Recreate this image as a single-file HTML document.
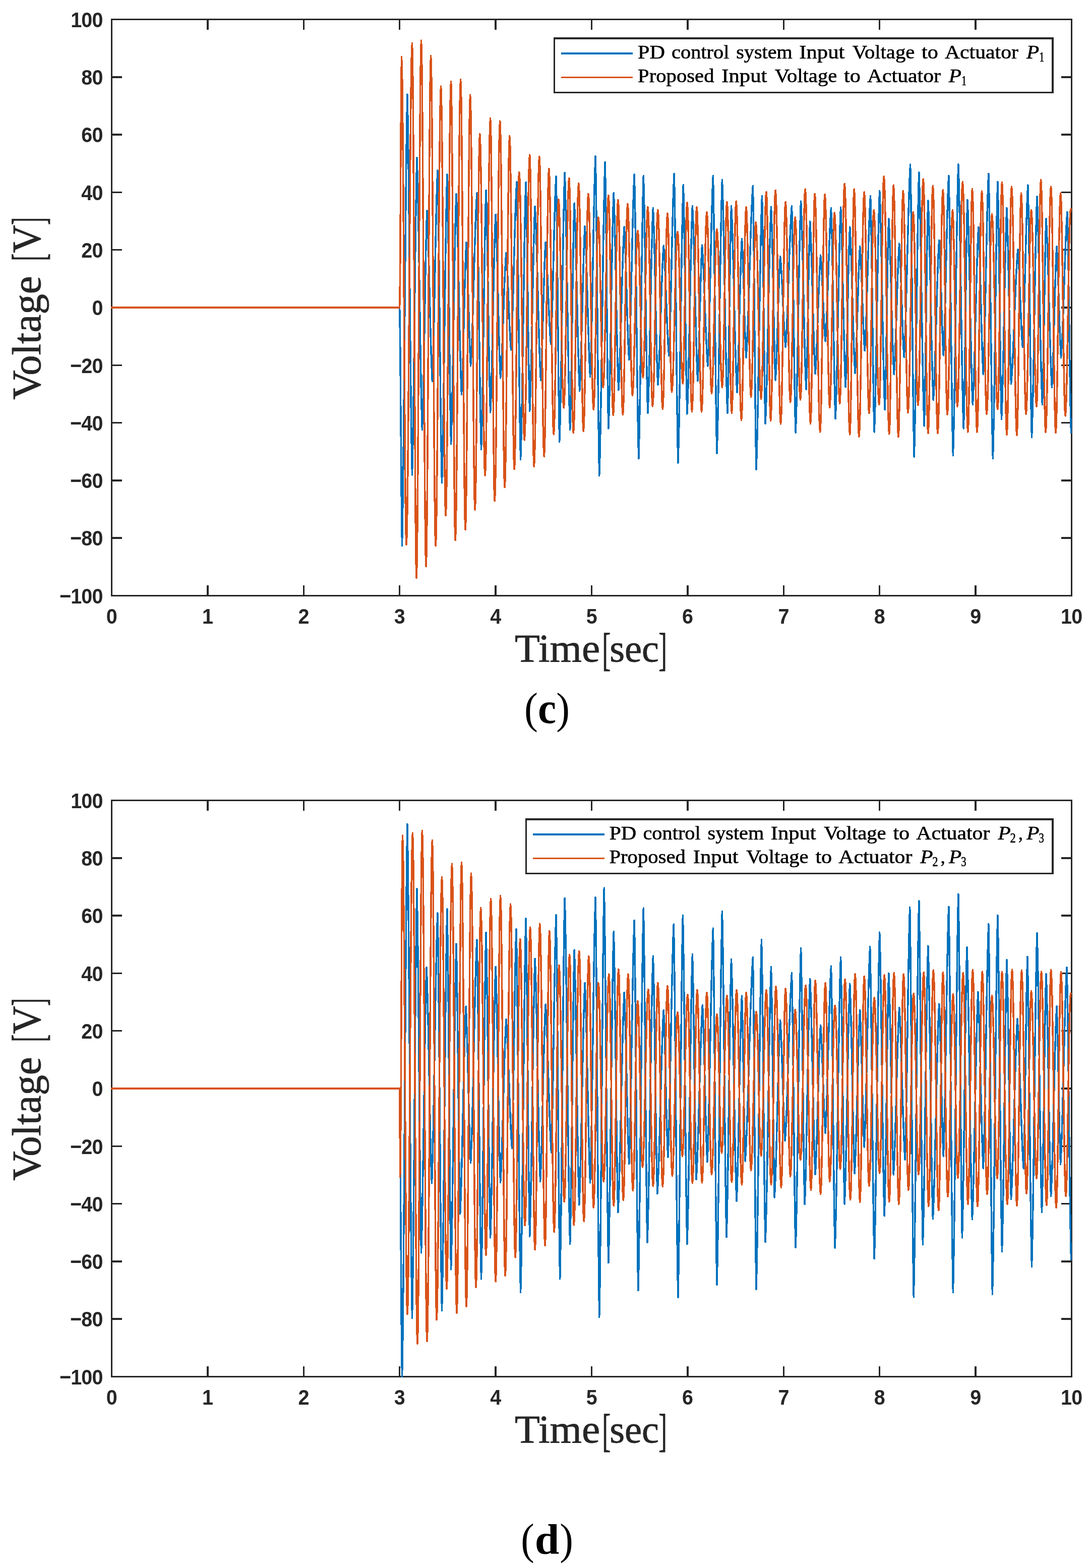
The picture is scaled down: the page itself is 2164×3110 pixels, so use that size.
<!DOCTYPE html>
<html lang="en"><head><meta charset="utf-8"><title>Figure</title>
<style>
html,body{margin:0;padding:0;background:#fff;}
body{width:2164px;height:3110px;}
svg{display:block;}
text{fill:#262626;white-space:pre;}
.tk text{font-family:"Liberation Sans",sans-serif;font-weight:bold;}
.cm{font-family:"Liberation Serif",serif;stroke:#262626;stroke-width:0.8;}
.cap{font-family:"Liberation Serif",serif;fill:#000;}
.lg text{fill:#000;stroke:#000;stroke-width:0.6;}
</style></head><body>
<svg width="2164" height="3110" viewBox="0 0 2164 3110">
<rect width="2164" height="3110" fill="#fff"/>
<g id="plot1">
<path d="M411.9 1181.5v-20.3M411.9 38.5v20.3M602.3 1181.5v-20.3M602.3 38.5v20.3M792.7 1181.5v-20.3M792.7 38.5v20.3M983.1 1181.5v-20.3M983.1 38.5v20.3M1173.5 1181.5v-20.3M1173.5 38.5v20.3M1363.9 1181.5v-20.3M1363.9 38.5v20.3M1554.3 1181.5v-20.3M1554.3 38.5v20.3M1744.7 1181.5v-20.3M1744.7 38.5v20.3M1935.1 1181.5v-20.3M1935.1 38.5v20.3M221.5 1067.2h20.3M2125.5 1067.2h-20.3M221.5 952.9h20.3M2125.5 952.9h-20.3M221.5 838.6h20.3M2125.5 838.6h-20.3M221.5 724.3h20.3M2125.5 724.3h-20.3M221.5 610.0h20.3M2125.5 610.0h-20.3M221.5 495.7h20.3M2125.5 495.7h-20.3M221.5 381.4h20.3M2125.5 381.4h-20.3M221.5 267.1h20.3M2125.5 267.1h-20.3M221.5 152.8h20.3M2125.5 152.8h-20.3" stroke="#262626" stroke-width="3.5" fill="none" shape-rendering="crispEdges"/>
<rect x="221.5" y="38.5" width="1904.0" height="1143.0" fill="none" stroke="#262626" stroke-width="3" shape-rendering="crispEdges"/>
<g class="tk" font-size="43.4" letter-spacing="-0.9"><text transform="translate(221.2 1236.6) scale(0.91 1)" text-anchor="middle">0</text>
<text transform="translate(411.6 1236.6) scale(0.91 1)" text-anchor="middle">1</text>
<text transform="translate(602.0 1236.6) scale(0.91 1)" text-anchor="middle">2</text>
<text transform="translate(792.4 1236.6) scale(0.91 1)" text-anchor="middle">3</text>
<text transform="translate(982.8 1236.6) scale(0.91 1)" text-anchor="middle">4</text>
<text transform="translate(1173.2 1236.6) scale(0.91 1)" text-anchor="middle">5</text>
<text transform="translate(1363.6 1236.6) scale(0.91 1)" text-anchor="middle">6</text>
<text transform="translate(1554.0 1236.6) scale(0.91 1)" text-anchor="middle">7</text>
<text transform="translate(1744.4 1236.6) scale(0.91 1)" text-anchor="middle">8</text>
<text transform="translate(1934.8 1236.6) scale(0.91 1)" text-anchor="middle">9</text>
<text transform="translate(2125.2 1236.6) scale(0.91 1)" text-anchor="middle">10</text>
<text transform="translate(203.6 1196.7) scale(0.91 1)" text-anchor="end">−100</text>
<text transform="translate(203.6 1082.4) scale(0.91 1)" text-anchor="end">−80</text>
<text transform="translate(203.6 968.1) scale(0.91 1)" text-anchor="end">−60</text>
<text transform="translate(203.6 853.8) scale(0.91 1)" text-anchor="end">−40</text>
<text transform="translate(203.6 739.5) scale(0.91 1)" text-anchor="end">−20</text>
<text transform="translate(203.6 625.2) scale(0.91 1)" text-anchor="end">0</text>
<text transform="translate(203.6 510.9) scale(0.91 1)" text-anchor="end">20</text>
<text transform="translate(203.6 396.6) scale(0.91 1)" text-anchor="end">40</text>
<text transform="translate(203.6 282.3) scale(0.91 1)" text-anchor="end">60</text>
<text transform="translate(203.6 168.0) scale(0.91 1)" text-anchor="end">80</text>
<text transform="translate(203.6 53.7) scale(0.91 1)" text-anchor="end">100</text></g>
<g fill="none" stroke-width="3.5" stroke-linejoin="round" shape-rendering="crispEdges"><path stroke="#0072bd" d="M221.5 610.0L792.7 610.0L793.7 679.8L794.6 786.2L795.6 906.5L796.5 1012.8L797.5 1082.6L798.4 1032.9L799.4 965.7L800.3 883.2L801.3 788.9L802.2 687.1L803.2 582.6L804.1 480.8L805.1 386.5L806.0 304.0L807.0 236.9L807.9 187.1L808.9 234.1L809.8 298.6L810.8 378.1L811.7 468.5L812.7 564.6L813.6 660.6L814.6 751.0L815.5 830.5L816.5 895.1L817.5 942.0L818.4 902.9L819.4 849.1L820.3 782.8L821.3 707.5L822.2 627.4L823.2 547.4L824.1 472.0L825.1 405.8L826.0 352.0L827.0 312.8L827.9 342.8L828.9 383.3L829.8 432.9L830.8 489.8L831.7 551.1L832.7 614.0L833.6 675.4L834.6 732.2L835.5 781.9L836.5 822.3L837.4 852.3L838.4 825.2L839.3 788.1L840.3 742.3L841.3 690.2L842.2 634.9L843.2 579.5L844.1 527.5L845.1 481.7L846.0 444.5L847.0 417.4L847.9 436.2L848.9 461.7L849.8 492.9L850.8 528.6L851.7 567.1L852.7 606.6L853.6 645.2L854.6 680.8L855.5 712.0L856.5 737.5L857.4 756.3L858.4 733.1L859.3 701.7L860.3 663.2L861.2 619.1L862.2 571.5L863.1 522.7L864.1 475.2L865.1 431.1L866.0 392.6L867.0 361.2L867.9 338.0L868.9 381.7L869.8 443.0L870.8 518.7L871.7 603.6L872.7 691.8L873.6 776.8L874.6 852.4L875.5 913.7L876.5 957.5L877.4 923.5L878.4 877.6L879.3 821.3L880.3 756.9L881.2 687.4L882.2 616.1L883.1 546.5L884.1 482.1L885.0 425.8L886.0 380.0L886.9 346.0L887.9 389.6L888.9 452.0L889.8 528.8L890.8 613.4L891.7 698.0L892.7 774.9L893.6 837.3L894.6 880.9L895.5 853.3L896.5 816.0L897.4 770.3L898.4 718.0L899.3 661.5L900.3 603.6L901.2 547.1L902.2 494.8L903.1 449.1L904.1 411.9L905.0 384.3L906.0 406.4L906.9 436.3L907.9 472.9L908.8 514.9L909.8 560.2L910.7 606.7L911.7 652.0L912.7 693.9L913.6 730.6L914.6 760.5L915.5 782.6L916.5 763.8L917.4 737.9L918.4 706.1L919.3 669.9L920.3 631.4L921.2 593.0L922.2 556.8L923.1 524.9L924.1 499.1L925.0 480.3L926.0 497.6L926.9 521.9L927.9 551.9L928.8 585.6L929.8 620.6L930.7 654.3L931.7 684.3L932.6 708.7L933.6 726.0L934.5 710.3L935.5 689.8L936.5 664.9L937.4 636.2L938.4 604.7L939.3 571.5L940.3 537.6L941.2 504.4L942.2 472.9L943.1 444.2L944.1 419.3L945.0 398.8L946.0 383.1L946.9 419.0L947.9 469.3L948.8 531.3L949.8 601.0L950.7 673.3L951.7 743.0L952.6 805.0L953.6 855.3L954.5 891.2L955.5 859.2L956.4 815.3L957.4 761.2L958.3 699.7L959.3 634.3L960.3 568.9L961.2 507.4L962.2 453.3L963.1 409.4L964.1 377.4L965.0 408.5L966.0 452.1L966.9 505.9L967.9 566.3L968.8 629.1L969.8 689.5L970.7 743.3L971.7 786.9L972.6 818.0L973.6 796.2L974.5 766.8L975.5 730.6L976.4 689.3L977.4 644.6L978.3 598.8L979.3 554.2L980.2 512.8L981.2 476.7L982.1 447.2L983.1 425.4L984.1 445.6L985.0 473.4L986.0 507.5L986.9 546.4L987.9 587.7L988.8 629.0L989.8 667.9L990.7 702.1L991.7 729.8L992.6 750.0L993.6 737.5L994.5 721.0L995.5 700.7L996.4 677.5L997.4 652.2L998.3 625.7L999.3 599.3L1000.2 573.9L1001.2 550.7L1002.1 530.5L1003.1 513.9L1004.0 501.4L1005.0 513.4L1005.9 529.9L1006.9 550.2L1007.9 573.2L1008.8 597.7L1009.8 622.2L1010.7 645.3L1011.7 665.6L1012.6 682.0L1013.6 694.0L1014.5 677.3L1015.5 655.0L1016.4 627.9L1017.4 596.7L1018.3 562.6L1019.3 527.1L1020.2 491.6L1021.2 457.6L1022.1 426.4L1023.1 399.2L1024.0 377.0L1025.0 360.3L1025.9 405.2L1026.9 469.5L1027.8 548.6L1028.8 635.7L1029.7 722.9L1030.7 802.0L1031.7 866.3L1032.6 911.2L1033.6 880.6L1034.5 839.4L1035.5 788.8L1036.4 730.9L1037.4 668.3L1038.3 604.2L1039.3 541.7L1040.2 483.8L1041.2 433.2L1042.1 392.0L1043.1 361.4L1044.0 398.4L1045.0 451.5L1045.9 516.7L1046.9 588.6L1047.8 660.4L1048.8 725.7L1049.7 778.7L1050.7 815.7L1051.6 793.2L1052.6 762.7L1053.5 725.3L1054.5 682.5L1055.5 636.3L1056.4 588.9L1057.4 542.7L1058.3 499.9L1059.3 462.5L1060.2 432.0L1061.2 409.4L1062.1 426.7L1063.1 449.7L1064.0 477.8L1065.0 510.1L1065.9 545.3L1066.9 582.0L1067.8 618.7L1068.8 653.9L1069.7 686.2L1070.7 714.3L1071.6 737.3L1072.6 754.6L1073.5 737.5L1074.5 714.1L1075.4 685.2L1076.4 652.3L1077.3 617.4L1078.3 582.5L1079.3 549.7L1080.2 520.8L1081.2 497.3L1082.1 480.3L1083.1 491.5L1084.0 506.7L1085.0 525.3L1085.9 546.6L1086.9 569.6L1087.8 593.2L1088.8 616.2L1089.7 637.5L1090.7 656.2L1091.6 671.3L1092.6 682.6L1093.5 664.1L1094.5 639.1L1095.4 608.5L1096.4 573.5L1097.3 535.7L1098.3 496.9L1099.2 459.1L1100.2 424.0L1101.1 393.4L1102.1 368.5L1103.1 350.0L1104.0 400.6L1105.0 474.7L1105.9 565.1L1106.9 661.2L1107.8 751.6L1108.8 825.7L1109.7 876.3L1110.7 846.7L1111.6 806.6L1112.6 757.5L1113.5 701.3L1114.5 640.6L1115.4 578.3L1116.4 517.6L1117.3 461.4L1118.3 412.2L1119.2 372.2L1120.2 342.5L1121.1 370.9L1122.1 409.1L1123.0 456.0L1124.0 509.7L1124.9 567.7L1125.9 627.2L1126.9 685.1L1127.8 738.8L1128.8 785.7L1129.7 824.0L1130.7 852.3L1131.6 820.6L1132.6 776.1L1133.5 721.3L1134.5 659.7L1135.4 595.7L1136.4 534.1L1137.3 479.3L1138.3 434.8L1139.2 403.1L1140.2 423.8L1141.1 451.7L1142.1 486.0L1143.0 525.1L1144.0 567.4L1144.9 610.8L1145.9 653.1L1146.8 692.3L1147.8 726.6L1148.7 754.5L1149.7 775.2L1150.7 757.0L1151.6 732.5L1152.6 702.5L1153.5 668.1L1154.5 631.0L1155.4 593.0L1156.4 555.9L1157.3 521.5L1158.3 491.5L1159.2 467.0L1160.2 448.8L1161.1 465.4L1162.1 487.8L1163.0 515.3L1164.0 546.7L1164.9 580.6L1165.9 615.4L1166.8 649.3L1167.8 680.7L1168.7 708.2L1169.7 730.6L1170.6 747.2L1171.6 722.9L1172.5 690.1L1173.5 649.8L1174.5 603.8L1175.4 554.1L1176.4 503.1L1177.3 453.3L1178.3 407.3L1179.2 367.1L1180.2 334.3L1181.1 310.0L1182.1 361.6L1183.0 435.5L1184.0 526.4L1184.9 626.6L1185.9 726.7L1186.8 817.7L1187.8 891.6L1188.7 943.2L1189.7 912.0L1190.6 870.5L1191.6 819.9L1192.5 761.8L1193.5 698.4L1194.4 632.3L1195.4 566.1L1196.3 502.7L1197.3 444.6L1198.3 394.0L1199.2 352.6L1200.2 321.4L1201.1 372.2L1202.1 446.7L1203.0 537.4L1204.0 634.0L1204.9 724.8L1205.9 799.2L1206.8 850.0L1207.8 824.0L1208.7 789.0L1209.7 745.9L1210.6 696.7L1211.6 643.5L1212.5 589.0L1213.5 535.9L1214.4 486.6L1215.4 443.6L1216.3 408.5L1217.3 382.5L1218.2 406.9L1219.2 440.3L1220.1 481.5L1221.1 528.3L1222.1 578.0L1223.0 627.7L1224.0 674.5L1224.9 715.7L1225.9 749.1L1226.8 773.4L1227.8 757.2L1228.7 735.7L1229.7 709.3L1230.6 679.1L1231.6 646.1L1232.5 611.7L1233.5 577.3L1234.4 544.3L1235.4 514.1L1236.3 487.8L1237.3 466.2L1238.2 450.0L1239.2 466.4L1240.1 488.9L1241.1 516.6L1242.0 548.2L1243.0 581.7L1243.9 615.2L1244.9 646.8L1245.9 674.5L1246.8 697.0L1247.8 713.4L1248.7 693.0L1249.7 665.5L1250.6 631.6L1251.6 592.9L1252.5 551.1L1253.5 508.3L1254.4 466.5L1255.4 427.8L1256.3 394.0L1257.3 366.4L1258.2 346.0L1259.2 385.8L1260.1 441.5L1261.1 510.3L1262.0 587.6L1263.0 667.8L1263.9 745.1L1264.9 813.9L1265.8 869.7L1266.8 909.5L1267.7 874.6L1268.7 826.6L1269.7 767.6L1270.6 700.5L1271.6 629.1L1272.5 557.8L1273.5 490.7L1274.4 431.7L1275.4 383.7L1276.3 348.8L1277.3 382.0L1278.2 428.6L1279.2 486.0L1280.1 550.5L1281.1 617.5L1282.0 682.0L1283.0 739.4L1283.9 785.9L1284.9 819.2L1285.8 796.6L1286.8 766.0L1287.7 728.6L1288.7 685.7L1289.6 639.4L1290.6 592.0L1291.5 545.7L1292.5 502.9L1293.5 465.4L1294.4 434.9L1295.4 412.3L1296.3 434.1L1297.3 464.1L1298.2 501.1L1299.2 543.1L1300.1 587.7L1301.1 632.4L1302.0 674.4L1303.0 711.3L1303.9 741.3L1304.9 763.2L1305.8 749.3L1306.8 730.9L1307.7 708.4L1308.7 682.7L1309.6 654.5L1310.6 625.1L1311.5 595.8L1312.5 567.6L1313.4 541.8L1314.4 519.4L1315.3 501.0L1316.3 487.1L1317.3 499.3L1318.2 515.6L1319.2 535.7L1320.1 558.7L1321.1 583.6L1322.0 609.0L1323.0 633.8L1323.9 656.8L1324.9 676.9L1325.8 693.3L1326.8 705.4L1327.7 685.4L1328.7 658.3L1329.6 625.0L1330.6 587.0L1331.5 545.9L1332.5 503.8L1333.4 462.7L1334.4 424.7L1335.3 391.4L1336.3 364.3L1337.2 344.3L1338.2 391.0L1339.1 458.0L1340.1 540.4L1341.1 631.1L1342.0 721.9L1343.0 804.3L1343.9 871.3L1344.9 918.0L1345.8 887.4L1346.8 846.0L1347.7 795.2L1348.7 737.2L1349.6 674.4L1350.6 610.1L1351.5 547.4L1352.5 489.3L1353.4 438.6L1354.4 397.2L1355.3 366.5L1356.3 403.6L1357.2 456.6L1358.2 521.8L1359.1 593.7L1360.1 665.6L1361.0 730.8L1362.0 783.8L1362.9 820.9L1363.9 798.0L1364.9 767.1L1365.8 729.1L1366.8 685.7L1367.7 638.9L1368.7 590.8L1369.6 544.0L1370.6 500.6L1371.5 462.6L1372.5 431.7L1373.4 408.8L1374.4 428.1L1375.3 454.1L1376.3 486.1L1377.2 522.6L1378.2 562.1L1379.1 602.5L1380.1 642.0L1381.0 678.5L1382.0 710.4L1382.9 736.5L1383.9 755.7L1384.8 736.7L1385.8 710.0L1386.7 677.1L1387.7 640.1L1388.7 601.7L1389.6 564.7L1390.6 531.7L1391.5 505.0L1392.5 486.0L1393.4 498.0L1394.4 514.0L1395.3 533.6L1396.3 556.0L1397.2 580.5L1398.2 606.0L1399.1 631.5L1400.1 656.0L1401.0 678.4L1402.0 698.0L1402.9 714.0L1403.9 726.0L1404.8 705.0L1405.8 676.8L1406.7 642.0L1407.7 602.3L1408.6 559.4L1409.6 515.4L1410.5 472.5L1411.5 432.8L1412.5 398.1L1413.4 369.8L1414.4 348.8L1415.3 393.7L1416.3 457.9L1417.2 537.0L1418.2 624.0L1419.1 711.1L1420.1 790.1L1421.0 854.3L1422.0 899.2L1422.9 869.0L1423.9 828.3L1424.8 778.4L1425.8 721.3L1426.7 659.6L1427.7 596.4L1428.6 534.7L1429.6 477.6L1430.5 427.7L1431.5 387.0L1432.4 356.8L1433.4 382.5L1434.3 417.2L1435.3 459.8L1436.3 508.5L1437.2 561.0L1438.2 615.0L1439.1 667.5L1440.1 716.2L1441.0 758.8L1442.0 793.5L1442.9 819.2L1443.9 785.7L1444.8 737.8L1445.8 678.9L1446.7 614.0L1447.7 549.1L1448.6 490.2L1449.6 442.3L1450.5 408.8L1451.5 427.4L1452.4 452.0L1453.4 482.1L1454.3 516.7L1455.3 554.4L1456.2 593.7L1457.2 633.0L1458.1 670.7L1459.1 705.3L1460.1 735.4L1461.0 760.0L1462.0 778.6L1462.9 759.6L1463.9 733.5L1464.8 701.4L1465.8 664.8L1466.7 626.0L1467.7 587.2L1468.6 550.6L1469.6 518.5L1470.5 492.4L1471.5 473.4L1472.4 490.1L1473.4 513.4L1474.3 542.3L1475.3 574.6L1476.2 608.2L1477.2 640.6L1478.1 669.4L1479.1 692.8L1480.0 709.4L1481.0 695.1L1481.9 676.6L1482.9 654.3L1483.9 628.6L1484.8 600.2L1485.8 570.0L1486.7 538.8L1487.7 507.7L1488.6 477.5L1489.6 449.1L1490.5 423.4L1491.5 401.1L1492.4 382.6L1493.4 368.3L1494.3 422.4L1495.3 501.7L1496.2 598.3L1497.2 701.1L1498.1 797.8L1499.1 877.0L1500.0 931.2L1501.0 903.9L1501.9 867.8L1502.9 823.6L1503.8 772.8L1504.8 717.5L1505.7 659.7L1506.7 602.0L1507.7 546.6L1508.6 495.9L1509.6 451.7L1510.5 415.5L1511.5 388.3L1512.4 431.7L1513.4 495.4L1514.3 573.0L1515.3 655.6L1516.2 733.2L1517.2 796.8L1518.1 840.3L1519.1 818.7L1520.0 790.0L1521.0 755.0L1521.9 714.8L1522.9 670.9L1523.8 625.1L1524.8 579.4L1525.7 535.5L1526.7 495.3L1527.6 460.3L1528.6 431.6L1529.5 410.0L1530.5 434.3L1531.5 468.3L1532.4 510.3L1533.4 557.5L1534.3 606.5L1535.3 653.7L1536.2 695.7L1537.2 729.7L1538.1 754.0L1539.1 738.7L1540.0 717.7L1541.0 691.8L1541.9 662.4L1542.9 631.1L1543.8 599.9L1544.8 570.5L1545.7 544.6L1546.7 523.6L1547.6 508.3L1548.6 518.3L1549.5 531.8L1550.5 548.4L1551.4 567.3L1552.4 587.8L1553.3 608.8L1554.3 629.3L1555.3 648.2L1556.2 664.8L1557.2 678.3L1558.1 688.3L1559.1 675.5L1560.0 658.7L1561.0 638.4L1561.9 615.0L1562.9 589.3L1563.8 562.1L1564.8 534.5L1565.7 507.3L1566.7 481.6L1567.6 458.2L1568.6 437.8L1569.5 421.1L1570.5 408.3L1571.4 444.9L1572.4 497.4L1573.3 562.0L1574.3 633.1L1575.2 704.3L1576.2 768.9L1577.1 821.4L1578.1 858.0L1579.1 832.5L1580.0 798.1L1581.0 755.9L1581.9 707.5L1582.9 655.3L1583.8 601.8L1584.8 549.6L1585.7 501.3L1586.7 459.0L1587.6 424.6L1588.6 399.1L1589.5 419.9L1590.5 447.9L1591.4 482.2L1592.4 521.5L1593.3 564.0L1594.3 607.5L1595.2 649.9L1596.2 689.2L1597.1 723.6L1598.1 751.6L1599.0 772.3L1600.0 745.1L1600.9 706.3L1601.9 658.4L1602.9 605.7L1603.8 553.0L1604.8 505.2L1605.7 466.3L1606.7 439.1L1607.6 455.9L1608.6 478.6L1609.5 506.4L1610.5 538.3L1611.4 572.7L1612.4 607.9L1613.3 642.3L1614.3 674.1L1615.2 702.0L1616.2 724.6L1617.1 741.4L1618.1 728.4L1619.0 710.7L1620.0 689.0L1620.9 664.2L1621.9 637.4L1622.8 610.0L1623.8 583.2L1624.7 558.4L1625.7 536.7L1626.7 519.1L1627.6 506.0L1628.6 516.6L1629.5 531.2L1630.5 549.2L1631.4 569.7L1632.4 591.4L1633.3 613.2L1634.3 633.6L1635.2 651.6L1636.2 666.2L1637.1 676.9L1638.1 663.6L1639.0 646.0L1640.0 624.5L1640.9 599.9L1641.9 572.9L1642.8 544.8L1643.8 516.8L1644.7 489.8L1645.7 465.2L1646.6 443.7L1647.6 426.1L1648.5 412.8L1649.5 442.3L1650.5 483.7L1651.4 534.7L1652.4 592.0L1653.3 651.5L1654.3 708.8L1655.2 759.7L1656.2 801.1L1657.1 830.6L1658.1 807.3L1659.0 775.8L1660.0 737.2L1660.9 693.0L1661.9 645.3L1662.8 596.4L1663.8 548.7L1664.7 504.5L1665.7 465.9L1666.6 434.4L1667.6 411.1L1668.5 433.3L1669.5 463.8L1670.4 501.4L1671.4 544.0L1672.3 589.4L1673.3 634.8L1674.3 677.5L1675.2 715.0L1676.2 745.5L1677.1 767.7L1678.1 745.3L1679.0 713.8L1680.0 675.1L1680.9 631.5L1681.9 586.2L1682.8 542.7L1683.8 503.9L1684.7 472.4L1685.7 450.0L1686.6 466.1L1687.6 487.9L1688.5 514.6L1689.5 545.2L1690.4 578.2L1691.4 612.1L1692.3 645.1L1693.3 675.7L1694.2 702.4L1695.2 724.2L1696.1 740.3L1697.1 724.7L1698.1 703.1L1699.0 676.7L1700.0 646.6L1700.9 614.6L1701.9 582.6L1702.8 552.5L1703.8 526.0L1704.7 504.5L1705.7 488.8L1706.6 501.7L1707.6 519.4L1708.5 541.2L1709.5 566.0L1710.4 592.3L1711.4 618.6L1712.3 643.4L1713.3 665.2L1714.2 682.8L1715.2 695.7L1716.1 680.3L1717.1 659.9L1718.0 634.9L1719.0 606.2L1719.9 574.9L1720.9 542.3L1721.9 509.6L1722.8 478.3L1723.8 449.7L1724.7 424.7L1725.7 404.2L1726.6 388.8L1727.6 427.0L1728.5 481.6L1729.5 548.8L1730.4 622.9L1731.4 696.9L1732.3 764.1L1733.3 818.7L1734.2 856.9L1735.2 830.3L1736.1 794.4L1737.1 750.4L1738.0 700.0L1739.0 645.6L1739.9 589.8L1740.9 535.4L1741.8 485.0L1742.8 441.0L1743.7 405.1L1744.7 378.5L1745.7 402.7L1746.6 435.2L1747.6 475.1L1748.5 520.8L1749.5 570.1L1750.4 620.7L1751.4 670.1L1752.3 715.7L1753.3 755.7L1754.2 788.2L1755.2 812.3L1756.1 781.5L1757.1 737.3L1758.0 683.0L1759.0 623.1L1759.9 563.3L1760.9 509.0L1761.8 464.8L1762.8 434.0L1763.7 451.1L1764.7 474.3L1765.6 502.7L1766.6 535.2L1767.5 570.3L1768.5 606.3L1769.5 641.4L1770.4 673.9L1771.4 702.3L1772.3 725.4L1773.3 742.6L1774.2 728.2L1775.2 708.7L1776.1 684.8L1777.1 657.5L1778.0 628.0L1779.0 597.7L1779.9 568.2L1780.9 540.9L1781.8 517.0L1782.8 497.5L1783.7 483.1L1784.7 497.1L1785.6 516.4L1786.6 540.1L1787.5 567.1L1788.5 595.7L1789.4 624.4L1790.4 651.3L1791.3 675.0L1792.3 694.3L1793.3 708.3L1794.2 690.8L1795.2 667.9L1796.1 640.1L1797.1 608.2L1798.0 573.1L1799.0 536.0L1799.9 498.3L1800.9 461.2L1801.8 426.1L1802.8 394.1L1803.7 366.3L1804.7 343.4L1805.6 326.0L1806.6 373.3L1807.5 440.9L1808.5 524.3L1809.4 616.0L1810.4 707.8L1811.3 791.1L1812.3 858.7L1813.2 906.0L1814.2 870.9L1815.1 822.7L1816.1 763.3L1817.1 695.8L1818.0 624.0L1819.0 552.2L1819.9 484.7L1820.9 425.3L1821.8 377.1L1822.8 342.0L1823.7 369.9L1824.7 407.6L1825.6 453.9L1826.6 506.9L1827.5 564.1L1828.5 622.7L1829.4 679.9L1830.4 732.9L1831.3 779.2L1832.3 816.9L1833.2 844.9L1834.2 808.4L1835.1 756.3L1836.1 692.1L1837.0 621.4L1838.0 550.7L1838.9 486.6L1839.9 434.4L1840.9 398.0L1841.8 420.0L1842.8 449.6L1843.7 486.0L1844.7 527.7L1845.6 572.7L1846.6 618.8L1847.5 663.7L1848.5 705.4L1849.4 741.8L1850.4 771.5L1851.3 793.5L1852.3 777.5L1853.2 756.4L1854.2 730.6L1855.1 700.9L1856.1 668.6L1857.0 634.9L1858.0 601.1L1858.9 568.8L1859.9 539.1L1860.8 513.3L1861.8 492.2L1862.7 476.3L1863.7 492.4L1864.7 515.0L1865.6 542.9L1866.6 574.3L1867.5 606.8L1868.5 638.2L1869.4 666.1L1870.4 688.7L1871.3 704.9L1872.3 685.0L1873.2 658.3L1874.2 625.5L1875.1 587.9L1876.1 547.4L1877.0 505.8L1878.0 465.2L1878.9 427.7L1879.9 394.8L1880.8 368.1L1881.8 348.3L1882.7 387.4L1883.7 442.4L1884.6 510.1L1885.6 586.2L1886.5 665.2L1887.5 741.3L1888.5 809.1L1889.4 864.0L1890.4 903.2L1891.3 871.1L1892.3 827.8L1893.2 774.7L1894.2 713.9L1895.1 648.2L1896.1 580.9L1897.0 515.3L1898.0 454.5L1898.9 401.3L1899.9 358.0L1900.8 326.0L1901.8 355.1L1902.7 394.4L1903.7 442.6L1904.6 497.8L1905.6 557.4L1906.5 618.6L1907.5 678.2L1908.4 733.3L1909.4 781.6L1910.3 820.9L1911.3 850.0L1912.3 813.0L1913.2 760.1L1914.2 694.9L1915.1 623.1L1916.1 551.4L1917.0 486.2L1918.0 433.3L1918.9 396.3L1919.9 418.8L1920.8 449.3L1921.8 486.7L1922.7 529.5L1923.7 575.7L1924.6 623.1L1925.6 669.3L1926.5 712.1L1927.5 749.5L1928.4 780.0L1929.4 802.6L1930.3 784.9L1931.3 761.5L1932.2 732.8L1933.2 699.9L1934.1 664.0L1935.1 626.6L1936.1 589.1L1937.0 553.2L1938.0 520.3L1938.9 491.7L1939.9 468.2L1940.8 450.6L1941.8 468.7L1942.7 493.7L1943.7 524.5L1944.6 559.4L1945.6 596.6L1946.5 633.7L1947.5 668.7L1948.4 699.4L1949.4 724.4L1950.3 742.6L1951.3 720.4L1952.2 690.6L1953.2 653.9L1954.1 611.9L1955.1 566.6L1956.0 520.2L1957.0 474.9L1957.9 432.9L1958.9 396.3L1959.9 366.4L1960.8 344.3L1961.8 384.2L1962.7 440.1L1963.7 509.1L1964.6 586.6L1965.6 667.1L1966.5 744.6L1967.5 813.6L1968.4 869.5L1969.4 909.5L1970.3 875.3L1971.3 828.3L1972.2 770.5L1973.2 704.7L1974.1 634.9L1975.1 565.0L1976.0 499.2L1977.0 441.4L1977.9 394.4L1978.9 360.3L1979.8 398.7L1980.8 453.7L1981.7 521.4L1982.7 596.0L1983.7 670.6L1984.6 738.3L1985.6 793.3L1986.5 831.7L1987.5 808.4L1988.4 777.0L1989.4 738.3L1990.3 694.2L1991.3 646.5L1992.2 597.5L1993.2 549.8L1994.1 505.7L1995.1 467.0L1996.0 435.6L1997.0 412.3L1997.9 436.9L1998.9 471.5L1999.8 514.1L2000.8 562.0L2001.7 611.7L2002.7 659.6L2003.6 702.2L2004.6 736.8L2005.5 761.4L2006.5 750.2L2007.5 735.8L2008.4 718.3L2009.4 698.2L2010.3 676.0L2011.3 652.4L2012.2 628.0L2013.2 603.6L2014.1 580.0L2015.1 557.8L2016.0 537.7L2017.0 520.2L2017.9 505.8L2018.9 494.6L2019.8 506.6L2020.8 523.2L2021.7 543.6L2022.7 566.8L2023.6 591.4L2024.6 616.1L2025.5 639.3L2026.5 659.7L2027.4 676.2L2028.4 688.3L2029.3 670.4L2030.3 646.4L2031.3 616.8L2032.2 583.0L2033.2 546.4L2034.1 509.0L2035.1 472.4L2036.0 438.6L2037.0 409.1L2037.9 385.0L2038.9 367.1L2039.8 407.9L2040.8 466.3L2041.7 538.2L2042.7 617.4L2043.6 696.6L2044.6 768.5L2045.5 826.9L2046.5 867.7L2047.4 841.2L2048.4 805.4L2049.3 761.4L2050.3 711.1L2051.2 656.7L2052.2 601.0L2053.1 546.7L2054.1 496.3L2055.1 452.4L2056.0 416.5L2057.0 390.0L2057.9 412.9L2058.9 443.9L2059.8 481.8L2060.8 525.3L2061.7 572.2L2062.7 620.3L2063.6 667.3L2064.6 710.7L2065.5 748.7L2066.5 779.7L2067.4 802.6L2068.4 772.5L2069.3 729.5L2070.3 676.6L2071.2 618.3L2072.2 560.0L2073.1 507.0L2074.1 464.0L2075.0 434.0L2076.0 450.8L2076.9 473.0L2077.9 500.2L2078.9 531.5L2079.8 565.6L2080.8 601.1L2081.7 636.7L2082.7 670.8L2083.6 702.0L2084.6 729.2L2085.5 751.5L2086.5 768.3L2087.4 750.9L2088.4 726.9L2089.3 697.4L2090.3 663.9L2091.2 628.3L2092.2 592.7L2093.1 559.1L2094.1 529.6L2095.0 505.7L2096.0 488.3L2096.9 503.9L2097.9 525.8L2098.8 552.8L2099.8 583.1L2100.7 614.6L2101.7 644.9L2102.7 671.9L2103.6 693.8L2104.6 709.4L2105.5 696.2L2106.5 678.9L2107.4 657.9L2108.4 633.7L2109.3 607.2L2110.3 579.1L2111.2 550.6L2112.2 522.5L2113.1 496.0L2114.1 471.8L2115.0 450.8L2116.0 433.5L2116.9 420.3L2117.9 456.0L2118.8 507.2L2119.8 570.1L2120.7 639.4L2121.7 708.8L2122.6 771.7L2123.6 822.9L2124.5 858.6L2125.5 858.6"/>
<path stroke="#d95319" d="M221.5 610.0L792.7 610.0L793.7 537.2L794.6 361.4L795.6 185.6L796.5 112.8L797.5 136.5L798.4 205.2L799.4 312.2L800.3 447.1L801.3 596.6L802.2 746.1L803.2 880.9L804.1 988.0L805.1 1056.7L806.0 1080.3L807.0 1063.4L807.9 1013.7L808.9 934.6L809.8 831.6L810.8 711.6L811.7 582.9L812.7 454.1L813.6 334.1L814.6 231.1L815.5 152.0L816.5 102.3L817.5 85.4L818.4 117.4L819.4 209.5L820.3 350.7L821.3 523.9L822.2 708.1L823.2 881.3L824.1 1022.5L825.1 1114.6L826.0 1146.6L827.0 1120.5L827.9 1044.8L828.9 926.8L829.8 778.2L830.8 613.4L831.7 448.7L832.7 300.0L833.6 182.1L834.6 106.3L835.5 80.2L836.5 105.8L837.4 179.9L838.4 295.3L839.3 440.8L840.3 602.0L841.3 763.2L842.2 908.7L843.2 1024.1L844.1 1098.2L845.1 1123.8L846.0 1099.0L847.0 1027.0L847.9 914.9L848.9 773.7L849.8 617.1L850.8 460.6L851.7 319.4L852.7 207.3L853.6 135.3L854.6 110.5L855.5 134.3L856.5 203.3L857.4 310.9L858.4 446.4L859.3 596.6L860.3 746.8L861.2 882.3L862.2 989.8L863.1 1058.8L864.1 1082.6L865.1 1064.2L866.0 1010.3L867.0 925.3L867.9 816.2L868.9 691.7L869.8 562.0L870.8 437.5L871.7 328.4L872.7 243.4L873.6 189.5L874.6 171.1L875.5 191.9L876.5 252.4L877.4 346.6L878.4 465.3L879.3 596.9L880.3 728.4L881.2 847.1L882.2 941.3L883.1 1001.8L884.1 1022.6L885.0 1005.2L886.0 954.3L886.9 874.0L887.9 770.9L888.9 653.3L889.8 530.7L890.8 413.1L891.7 310.0L892.7 229.7L893.6 178.8L894.6 161.4L895.5 188.8L896.5 267.9L897.4 389.0L898.4 537.5L899.3 695.6L900.3 844.2L901.2 965.3L902.2 1044.3L903.1 1071.8L904.1 1053.3L905.0 999.2L906.0 914.1L906.9 804.7L907.9 679.9L908.8 549.8L909.8 425.0L910.7 315.6L911.7 230.5L912.7 176.5L913.6 157.9L914.6 179.8L915.5 243.2L916.5 341.9L917.4 466.4L918.4 604.3L919.3 742.2L920.3 866.6L921.2 965.4L922.2 1028.8L923.1 1050.6L924.1 1029.5L925.0 968.3L926.0 872.9L926.9 752.7L927.9 619.4L928.8 486.2L929.8 366.0L930.7 270.6L931.7 209.3L932.6 188.2L933.6 208.4L934.5 266.8L935.5 357.9L936.5 472.6L937.4 599.7L938.4 726.9L939.3 841.6L940.3 932.6L941.2 991.1L942.2 1011.2L943.1 992.9L944.1 940.0L945.0 857.5L946.0 753.5L946.9 638.3L947.9 523.1L948.8 419.1L949.8 336.6L950.7 283.6L951.7 265.4L952.6 279.1L953.6 319.2L954.5 382.4L955.5 463.5L956.4 556.1L957.4 652.5L958.3 745.1L959.3 826.2L960.3 889.4L961.2 929.5L962.2 943.2L963.1 928.8L964.1 886.9L965.0 820.9L966.0 736.0L966.9 639.3L967.9 538.4L968.8 441.7L969.8 356.8L970.7 290.8L971.7 248.9L972.6 234.5L973.6 257.4L974.5 323.3L975.5 424.3L976.4 548.1L977.4 679.9L978.3 803.7L979.3 904.7L980.2 970.6L981.2 993.5L982.1 978.2L983.1 933.7L984.1 863.5L985.0 773.3L986.0 670.5L986.9 563.3L987.9 460.4L988.8 370.2L989.8 300.0L990.7 255.5L991.7 240.2L992.6 258.0L993.6 309.6L994.5 390.0L995.5 491.2L996.4 603.4L997.4 715.7L998.3 816.9L999.3 897.3L1000.2 948.8L1001.2 966.6L1002.1 949.6L1003.1 900.0L1004.0 822.9L1005.0 725.7L1005.9 618.0L1006.9 510.3L1007.9 413.1L1008.8 336.0L1009.8 286.4L1010.7 269.4L1011.7 285.6L1012.6 332.5L1013.6 405.7L1014.5 497.8L1015.5 600.0L1016.4 702.2L1017.4 794.3L1018.3 867.5L1019.3 914.4L1020.2 930.6L1021.2 916.2L1022.1 874.3L1023.1 809.2L1024.0 727.0L1025.0 636.0L1025.9 545.0L1026.9 462.8L1027.8 397.7L1028.8 355.8L1029.7 341.4L1030.7 352.2L1031.7 383.6L1032.6 433.1L1033.6 496.7L1034.5 569.3L1035.5 645.0L1036.4 717.5L1037.4 781.2L1038.3 830.7L1039.3 862.1L1040.2 872.9L1041.2 861.4L1042.1 828.0L1043.1 775.3L1044.0 707.5L1045.0 630.3L1045.9 549.7L1046.9 472.5L1047.8 404.7L1048.8 352.0L1049.7 318.6L1050.7 307.1L1051.6 325.8L1052.6 379.4L1053.5 461.7L1054.5 562.6L1055.5 670.0L1056.4 770.9L1057.4 853.1L1058.3 906.8L1059.3 925.5L1060.2 913.0L1061.2 876.7L1062.1 819.3L1063.1 745.7L1064.0 661.8L1065.0 574.2L1065.9 490.3L1066.9 416.7L1067.8 359.3L1068.8 323.0L1069.7 310.5L1070.7 325.1L1071.6 367.3L1072.6 433.2L1073.5 516.1L1074.5 608.0L1075.4 699.9L1076.4 782.8L1077.3 848.7L1078.3 890.9L1079.3 905.5L1080.2 891.5L1081.2 850.9L1082.1 787.8L1083.1 708.2L1084.0 620.0L1085.0 531.8L1085.9 452.2L1086.9 389.1L1087.8 348.5L1088.8 334.5L1089.7 347.4L1090.7 384.9L1091.6 443.1L1092.6 516.6L1093.5 598.0L1094.5 679.4L1095.4 752.9L1096.4 811.1L1097.3 848.6L1098.3 861.5L1099.2 850.1L1100.2 817.0L1101.1 765.5L1102.1 700.5L1103.1 628.6L1104.0 556.6L1105.0 491.7L1105.9 440.2L1106.9 407.1L1107.8 395.7L1108.8 404.1L1109.7 428.5L1110.7 467.0L1111.6 516.5L1112.6 572.9L1113.5 631.7L1114.5 688.1L1115.4 737.6L1116.4 776.1L1117.3 800.5L1118.3 808.9L1119.2 799.7L1120.2 772.7L1121.1 730.3L1122.1 675.7L1123.0 613.6L1124.0 548.7L1124.9 486.5L1125.9 432.0L1126.9 389.5L1127.8 362.6L1128.8 353.4L1129.7 368.6L1130.7 412.5L1131.6 479.7L1132.6 562.1L1133.5 649.9L1134.5 732.3L1135.4 799.5L1136.4 843.4L1137.3 858.6L1138.3 848.6L1139.2 819.3L1140.2 773.2L1141.1 713.9L1142.1 646.4L1143.0 575.9L1144.0 508.3L1144.9 449.1L1145.9 403.0L1146.8 373.7L1147.8 363.7L1148.7 375.7L1149.7 410.6L1150.7 465.0L1151.6 533.5L1152.6 609.4L1153.5 685.4L1154.5 753.9L1155.4 808.2L1156.4 843.1L1157.3 855.2L1158.3 843.6L1159.2 810.2L1160.2 758.1L1161.1 692.5L1162.1 619.7L1163.0 547.0L1164.0 481.3L1164.9 429.2L1165.9 395.8L1166.8 384.3L1167.8 392.9L1168.7 418.2L1169.7 458.1L1170.6 509.4L1171.6 567.8L1172.5 628.7L1173.5 687.2L1174.5 738.4L1175.4 778.3L1176.4 803.6L1177.3 812.3L1178.3 803.0L1179.2 775.9L1180.2 733.7L1181.1 680.6L1182.1 621.7L1183.0 562.8L1184.0 509.7L1184.9 467.5L1185.9 440.4L1186.8 431.1L1187.8 439.4L1188.7 463.3L1189.7 500.6L1190.6 547.6L1191.6 599.7L1192.5 651.8L1193.5 698.8L1194.4 736.1L1195.4 760.1L1196.3 768.3L1197.3 760.6L1198.3 738.1L1199.2 702.6L1200.2 657.1L1201.1 605.1L1202.1 550.9L1203.0 498.9L1204.0 453.4L1204.9 417.9L1205.9 395.4L1206.8 387.7L1207.8 398.4L1208.7 429.3L1209.7 477.6L1210.6 538.3L1211.6 605.7L1212.5 673.1L1213.5 733.9L1214.4 782.1L1215.4 813.1L1216.3 823.7L1217.3 813.3L1218.2 782.9L1219.2 735.6L1220.1 676.0L1221.1 610.0L1222.1 544.0L1223.0 484.4L1224.0 437.1L1224.9 406.7L1225.9 396.3L1226.8 406.7L1227.8 437.0L1228.7 484.1L1229.7 543.6L1230.6 609.4L1231.6 675.3L1232.5 734.7L1233.5 781.9L1234.4 812.2L1235.4 822.6L1236.3 812.4L1237.3 782.7L1238.2 736.4L1239.2 678.1L1240.1 613.4L1241.1 548.8L1242.0 490.5L1243.0 444.2L1243.9 414.5L1244.9 404.3L1245.9 413.6L1246.8 440.6L1247.8 482.6L1248.7 535.6L1249.7 594.3L1250.6 653.0L1251.6 706.0L1252.5 748.0L1253.5 775.0L1254.4 784.3L1255.4 777.7L1256.3 758.4L1257.3 728.0L1258.2 688.9L1259.2 644.4L1260.1 597.9L1261.1 553.4L1262.0 514.3L1263.0 483.9L1263.9 464.6L1264.9 458.0L1265.8 463.9L1266.8 481.1L1267.7 508.2L1268.7 543.0L1269.7 582.7L1270.6 624.1L1271.6 663.8L1272.5 698.7L1273.5 725.8L1274.4 743.0L1275.4 748.9L1276.3 740.6L1277.3 716.6L1278.2 679.1L1279.2 632.0L1280.1 579.7L1281.1 527.4L1282.0 480.3L1283.0 442.9L1283.9 418.8L1284.9 410.5L1285.8 420.2L1286.8 448.3L1287.7 492.1L1288.7 547.2L1289.6 608.3L1290.6 669.4L1291.5 724.5L1292.5 768.3L1293.5 796.3L1294.4 806.0L1295.4 798.1L1296.3 775.1L1297.3 738.8L1298.2 692.1L1299.2 638.9L1300.1 583.4L1301.1 530.2L1302.0 483.5L1303.0 447.2L1303.9 424.2L1304.9 416.3L1305.8 425.9L1306.8 454.0L1307.7 497.7L1308.7 552.7L1309.6 613.7L1310.6 674.7L1311.5 729.8L1312.5 773.5L1313.4 801.5L1314.4 811.2L1315.3 801.7L1316.3 774.1L1317.3 731.2L1318.2 677.1L1319.2 617.1L1320.1 557.2L1321.1 503.1L1322.0 460.2L1323.0 432.6L1323.9 423.1L1324.9 433.8L1325.8 464.6L1326.8 511.7L1327.7 569.5L1328.7 631.0L1329.6 688.9L1330.6 736.0L1331.5 766.8L1332.5 777.4L1333.4 772.0L1334.4 756.2L1335.3 730.9L1336.3 698.0L1337.2 659.7L1338.2 618.6L1339.1 577.5L1340.1 539.1L1341.1 506.2L1342.0 481.0L1343.0 465.1L1343.9 459.7L1344.9 465.8L1345.8 483.6L1346.8 511.7L1347.7 547.7L1348.7 588.9L1349.6 631.7L1350.6 672.8L1351.5 708.9L1352.5 737.0L1353.4 754.8L1354.4 760.9L1355.3 750.1L1356.3 718.9L1357.2 671.2L1358.2 612.6L1359.1 550.3L1360.1 491.7L1361.0 444.0L1362.0 412.8L1362.9 402.0L1363.9 412.1L1364.9 441.5L1365.8 487.4L1366.8 545.1L1367.7 609.1L1368.7 673.2L1369.6 730.9L1370.6 776.7L1371.5 806.2L1372.5 816.3L1373.4 806.4L1374.4 777.6L1375.3 732.8L1376.3 676.3L1377.2 613.7L1378.2 551.1L1379.1 494.6L1380.1 449.8L1381.0 421.0L1382.0 411.1L1382.9 421.0L1383.9 449.9L1384.8 494.7L1385.8 551.3L1386.7 614.0L1387.7 676.7L1388.7 733.3L1389.6 778.1L1390.6 807.0L1391.5 816.9L1392.5 808.9L1393.4 785.4L1394.4 748.5L1395.3 701.1L1396.3 647.0L1397.2 590.7L1398.2 536.6L1399.1 489.2L1400.1 452.3L1401.0 428.9L1402.0 420.8L1402.9 429.6L1403.9 455.2L1404.8 494.9L1405.8 545.0L1406.7 600.6L1407.7 656.1L1408.6 706.2L1409.6 746.0L1410.5 771.5L1411.5 780.3L1412.5 773.7L1413.4 754.5L1414.4 724.1L1415.3 685.1L1416.3 640.6L1417.2 594.2L1418.2 549.8L1419.1 510.8L1420.1 480.4L1421.0 461.1L1422.0 454.6L1422.9 460.9L1423.9 479.5L1424.8 508.7L1425.8 546.3L1426.7 589.1L1427.7 633.8L1428.6 676.6L1429.6 714.2L1430.5 743.4L1431.5 762.0L1432.4 768.3L1433.4 759.3L1434.3 733.2L1435.3 692.4L1436.3 641.1L1437.2 584.3L1438.2 527.4L1439.1 476.1L1440.1 435.4L1441.0 409.3L1442.0 400.3L1442.9 410.5L1443.9 440.3L1444.8 486.6L1445.8 545.0L1446.7 609.7L1447.7 674.4L1448.6 732.8L1449.6 779.2L1450.5 808.9L1451.5 819.2L1452.4 806.5L1453.4 770.0L1454.3 714.2L1455.3 645.6L1456.2 572.7L1457.2 504.1L1458.1 448.3L1459.1 411.8L1460.1 399.1L1461.0 407.9L1462.0 433.6L1462.9 474.1L1463.9 526.1L1464.8 585.4L1465.8 647.2L1466.7 706.5L1467.7 758.5L1468.6 799.0L1469.6 824.7L1470.5 833.5L1471.5 823.1L1472.4 793.1L1473.4 746.4L1474.3 687.5L1475.3 622.3L1476.2 557.0L1477.2 498.2L1478.1 451.4L1479.1 421.5L1480.0 411.1L1481.0 420.3L1481.9 447.0L1482.9 488.6L1483.9 541.0L1484.8 599.1L1485.8 657.2L1486.7 709.7L1487.7 751.3L1488.6 778.0L1489.6 787.2L1490.5 778.7L1491.5 754.1L1492.4 715.8L1493.4 667.5L1494.3 614.0L1495.3 560.5L1496.2 512.2L1497.2 473.9L1498.1 449.3L1499.1 440.8L1500.0 447.9L1501.0 468.6L1501.9 501.3L1502.9 543.2L1503.8 591.1L1504.8 640.9L1505.7 688.8L1506.7 730.7L1507.7 763.4L1508.6 784.1L1509.6 791.2L1510.5 782.9L1511.5 758.6L1512.4 720.4L1513.4 671.2L1514.3 615.2L1515.3 556.8L1516.2 500.8L1517.2 451.6L1518.1 413.4L1519.1 389.1L1520.0 380.8L1521.0 394.5L1521.9 433.9L1522.9 494.3L1523.8 568.3L1524.8 647.1L1525.7 721.2L1526.7 781.5L1527.6 820.9L1528.6 834.6L1529.5 823.4L1530.5 790.9L1531.5 740.4L1532.4 676.6L1533.4 606.0L1534.3 535.4L1535.3 471.6L1536.2 421.1L1537.2 388.6L1538.1 377.4L1539.1 386.8L1540.0 414.2L1541.0 457.4L1541.9 512.9L1542.9 576.2L1543.8 642.1L1544.8 705.4L1545.7 760.9L1546.7 804.1L1547.6 831.5L1548.6 840.9L1549.5 830.1L1550.5 798.8L1551.4 750.1L1552.4 688.7L1553.3 620.6L1554.3 552.5L1555.3 491.1L1556.2 442.3L1557.2 411.0L1558.1 400.3L1559.1 410.0L1560.0 438.2L1561.0 482.2L1561.9 537.7L1562.9 599.1L1563.8 660.6L1564.8 716.0L1565.7 760.0L1566.7 788.3L1567.6 798.0L1568.6 789.0L1569.5 763.0L1570.5 722.4L1571.4 671.3L1572.4 614.6L1573.3 557.9L1574.3 506.7L1575.2 466.2L1576.2 440.1L1577.1 431.1L1578.1 438.4L1579.1 459.8L1580.0 493.5L1581.0 536.9L1581.9 586.3L1582.9 637.7L1583.8 687.1L1584.8 730.5L1585.7 764.2L1586.7 785.6L1587.6 792.9L1588.6 782.7L1589.5 753.0L1590.5 706.8L1591.4 648.5L1592.4 584.0L1593.3 519.4L1594.3 461.2L1595.2 415.0L1596.2 385.3L1597.1 375.1L1598.1 384.5L1599.0 412.0L1600.0 455.4L1600.9 511.1L1601.9 574.6L1602.9 640.8L1603.8 704.3L1604.8 760.0L1605.7 803.4L1606.7 830.9L1607.6 840.3L1608.6 826.6L1609.5 787.0L1610.5 726.3L1611.4 651.9L1612.4 572.7L1613.3 498.3L1614.3 437.6L1615.2 398.0L1616.2 384.3L1617.1 393.8L1618.1 421.8L1619.0 465.8L1620.0 522.4L1620.9 586.9L1621.9 654.2L1622.8 718.7L1623.8 775.3L1624.7 819.4L1625.7 847.3L1626.7 856.9L1627.6 845.3L1628.6 811.9L1629.5 759.7L1630.5 694.0L1631.4 621.1L1632.4 548.3L1633.3 482.6L1634.3 430.4L1635.2 396.9L1636.2 385.4L1637.1 395.7L1638.1 425.8L1639.0 472.6L1640.0 531.5L1640.9 596.9L1641.9 662.2L1642.8 721.1L1643.8 767.9L1644.7 798.0L1645.7 808.3L1646.6 798.9L1647.6 771.4L1648.5 728.7L1649.5 674.8L1650.5 615.1L1651.4 555.5L1652.4 501.6L1653.3 458.9L1654.3 431.4L1655.2 422.0L1656.2 429.6L1657.1 452.0L1658.1 487.3L1659.0 532.6L1660.0 584.2L1660.9 638.1L1661.9 689.7L1662.8 735.0L1663.8 770.3L1664.7 792.6L1665.7 800.3L1666.6 789.6L1667.6 758.7L1668.5 710.4L1669.5 649.7L1670.4 582.3L1671.4 514.9L1672.3 454.1L1673.3 405.9L1674.3 374.9L1675.2 364.3L1676.2 374.3L1677.1 403.8L1678.1 450.2L1679.0 509.8L1680.0 577.7L1680.9 648.6L1681.9 716.5L1682.8 776.1L1683.8 822.5L1684.7 851.9L1685.7 862.0L1686.6 847.3L1687.6 805.1L1688.5 740.3L1689.5 660.8L1690.4 576.3L1691.4 496.8L1692.3 432.1L1693.3 389.8L1694.2 375.1L1695.2 387.1L1696.1 422.0L1697.1 476.3L1698.1 544.7L1699.0 620.6L1700.0 696.4L1700.9 764.9L1701.9 819.2L1702.8 854.0L1703.8 866.0L1704.7 856.2L1705.7 827.5L1706.6 782.3L1707.6 724.2L1708.5 658.0L1709.5 588.9L1710.4 522.6L1711.4 464.6L1712.3 419.3L1713.3 390.7L1714.2 380.8L1715.2 391.6L1716.1 422.7L1717.1 471.3L1718.0 532.5L1719.0 600.3L1719.9 668.1L1720.9 729.3L1721.9 777.8L1722.8 809.0L1723.8 819.7L1724.7 809.9L1725.7 781.2L1726.6 736.6L1727.6 680.3L1728.5 618.0L1729.5 555.7L1730.4 499.4L1731.4 454.8L1732.3 426.1L1733.3 416.3L1734.2 424.1L1735.2 446.9L1736.1 482.9L1737.1 529.2L1738.0 581.9L1739.0 636.9L1739.9 689.7L1740.9 735.9L1741.8 771.9L1742.8 794.8L1743.7 802.6L1744.7 791.5L1745.7 759.4L1746.6 709.3L1747.6 646.2L1748.5 576.3L1749.5 506.3L1750.4 443.3L1751.4 393.2L1752.3 361.0L1753.3 350.0L1754.2 360.3L1755.2 390.5L1756.1 438.1L1757.1 499.3L1758.0 569.1L1759.0 641.8L1759.9 711.6L1760.9 772.7L1761.8 820.3L1762.8 850.5L1763.7 860.9L1764.7 846.0L1765.6 803.1L1766.6 737.4L1767.5 656.9L1768.5 571.1L1769.5 490.6L1770.4 424.9L1771.4 382.0L1772.3 367.1L1773.3 379.3L1774.2 414.8L1775.2 470.1L1776.1 539.7L1777.1 616.9L1778.0 694.0L1779.0 763.7L1779.9 818.9L1780.9 854.4L1781.8 866.6L1782.8 854.7L1783.7 820.0L1784.7 766.0L1785.6 698.0L1786.6 622.6L1787.5 547.2L1788.5 479.1L1789.4 425.1L1790.4 390.5L1791.3 378.5L1792.3 389.3L1793.3 420.6L1794.2 469.2L1795.2 530.6L1796.1 598.6L1797.1 666.6L1798.0 727.9L1799.0 776.6L1799.9 807.8L1800.9 818.6L1801.8 810.5L1802.8 787.0L1803.7 750.0L1804.7 702.3L1805.6 648.0L1806.6 591.4L1807.5 537.1L1808.5 489.5L1809.4 452.4L1810.4 428.9L1811.3 420.8L1812.3 430.2L1813.2 457.4L1814.2 499.8L1815.1 553.1L1816.1 612.3L1817.1 671.4L1818.0 724.8L1819.0 767.2L1819.9 794.4L1820.9 803.7L1821.8 794.7L1822.8 768.1L1823.7 726.3L1824.7 672.6L1825.6 611.3L1826.6 547.5L1827.5 486.2L1828.5 432.5L1829.4 390.7L1830.4 364.2L1831.3 355.1L1832.3 367.4L1833.2 403.2L1834.2 459.0L1835.1 529.3L1836.1 607.1L1837.0 685.0L1838.0 755.3L1838.9 811.0L1839.9 846.8L1840.9 859.2L1841.8 847.2L1842.8 812.3L1843.7 758.0L1844.7 689.6L1845.6 613.7L1846.6 537.9L1847.5 469.4L1848.5 415.1L1849.4 380.3L1850.4 368.3L1851.3 380.3L1852.3 415.1L1853.2 469.4L1854.2 537.9L1855.1 613.7L1856.1 689.6L1857.0 758.0L1858.0 812.3L1858.9 847.2L1859.9 859.2L1860.8 849.4L1861.8 820.8L1862.7 775.8L1863.7 718.0L1864.7 652.1L1865.6 583.4L1866.6 517.4L1867.5 459.6L1868.5 414.6L1869.4 386.0L1870.4 376.3L1871.3 389.7L1872.3 428.4L1873.2 487.7L1874.2 560.4L1875.1 637.8L1876.1 710.6L1877.0 769.9L1878.0 808.6L1878.9 822.0L1879.9 813.8L1880.8 789.9L1881.8 752.1L1882.7 703.6L1883.7 648.3L1884.6 590.6L1885.6 535.3L1886.5 486.8L1887.5 449.0L1888.5 425.0L1889.4 416.8L1890.4 426.4L1891.3 454.0L1892.3 497.0L1893.2 551.3L1894.2 611.4L1895.1 671.6L1896.1 725.8L1897.0 768.9L1898.0 796.5L1898.9 806.0L1899.9 797.0L1900.8 770.7L1901.8 729.2L1902.7 675.9L1903.7 615.1L1904.6 551.7L1905.6 491.0L1906.5 437.7L1907.5 396.2L1908.4 369.8L1909.4 360.8L1910.3 370.9L1911.3 400.2L1912.3 446.4L1913.2 505.8L1914.2 573.6L1915.1 644.2L1916.1 711.9L1917.0 771.3L1918.0 817.5L1918.9 846.8L1919.9 856.9L1920.8 842.3L1921.8 800.5L1922.7 736.3L1923.7 657.6L1924.6 573.8L1925.6 495.1L1926.5 431.0L1927.5 389.1L1928.4 374.5L1929.4 386.3L1930.3 420.6L1931.3 474.0L1932.2 541.2L1933.2 615.7L1934.1 690.2L1935.1 757.5L1936.1 810.8L1937.0 845.1L1938.0 856.9L1938.9 845.2L1939.9 811.3L1940.8 758.4L1941.8 691.8L1942.7 618.0L1943.7 544.2L1944.6 477.6L1945.6 424.7L1946.5 390.8L1947.5 379.1L1948.4 389.9L1949.4 421.4L1950.3 470.3L1951.3 531.9L1952.2 600.3L1953.2 668.6L1954.1 730.3L1955.1 779.2L1956.0 810.6L1957.0 821.5L1957.9 813.4L1958.9 790.0L1959.9 753.0L1960.8 705.5L1961.8 651.4L1962.7 594.9L1963.7 540.8L1964.6 493.3L1965.6 456.3L1966.5 432.9L1967.5 424.8L1968.4 431.4L1969.4 450.8L1970.3 481.5L1971.3 521.6L1972.2 568.2L1973.2 618.3L1974.1 668.4L1975.1 715.0L1976.0 755.1L1977.0 785.8L1977.9 805.1L1978.9 811.7L1979.8 798.2L1980.8 759.1L1981.7 699.2L1982.7 625.7L1983.7 547.5L1984.6 474.0L1985.6 414.1L1986.5 375.0L1987.5 361.4L1988.4 373.6L1989.4 409.2L1990.3 464.6L1991.3 534.4L1992.2 611.7L1993.2 689.1L1994.1 758.8L1995.1 814.2L1996.0 849.8L1997.0 862.0L1997.9 850.0L1998.9 815.0L1999.8 760.6L2000.8 692.0L2001.7 616.0L2002.7 540.0L2003.6 471.4L2004.6 417.0L2005.5 382.0L2006.5 370.0L2007.5 380.0L2008.4 409.1L2009.4 455.1L2010.3 514.1L2011.3 581.5L2012.2 651.7L2013.2 719.0L2014.1 778.1L2015.1 824.0L2016.0 853.2L2017.0 863.2L2017.9 848.7L2018.9 807.0L2019.8 743.2L2020.8 664.8L2021.7 581.5L2022.7 503.1L2023.6 439.3L2024.6 397.6L2025.5 383.1L2026.5 393.8L2027.4 425.0L2028.4 473.5L2029.3 534.6L2030.3 602.3L2031.3 670.0L2032.2 731.1L2033.2 779.6L2034.1 810.7L2035.1 821.5L2036.0 813.2L2037.0 789.3L2037.9 751.5L2038.9 703.0L2039.8 647.7L2040.8 590.0L2041.7 534.7L2042.7 486.2L2043.6 448.4L2044.6 424.5L2045.5 416.3L2046.5 424.2L2047.4 447.2L2048.4 483.6L2049.3 530.4L2050.3 583.7L2051.2 639.2L2052.2 692.5L2053.1 739.2L2054.1 775.6L2055.1 798.7L2056.0 806.6L2057.0 793.0L2057.9 753.9L2058.9 694.0L2059.8 620.5L2060.8 542.3L2061.7 468.8L2062.7 408.9L2063.6 369.8L2064.6 356.3L2065.5 368.5L2066.5 404.1L2067.4 459.6L2068.4 529.4L2069.3 606.9L2070.3 684.3L2071.2 754.2L2072.2 809.6L2073.1 845.2L2074.1 857.5L2075.0 847.6L2076.0 818.8L2076.9 773.3L2077.9 715.0L2078.9 648.4L2079.8 579.0L2080.8 512.5L2081.7 454.1L2082.7 408.7L2083.6 379.8L2084.6 370.0L2085.5 381.9L2086.5 416.6L2087.4 470.6L2088.4 538.6L2089.3 614.0L2090.3 689.4L2091.2 757.4L2092.2 811.4L2093.1 846.1L2094.1 858.0L2095.0 846.4L2096.0 812.7L2096.9 760.1L2097.9 694.0L2098.8 620.6L2099.8 547.2L2100.7 481.0L2101.7 428.5L2102.7 394.7L2103.6 383.1L2104.6 393.9L2105.5 425.3L2106.5 474.2L2107.4 535.7L2108.4 604.0L2109.3 672.3L2110.3 733.8L2111.2 782.7L2112.2 814.1L2113.1 824.9L2114.1 816.6L2115.0 792.4L2116.0 754.2L2116.9 705.1L2117.9 649.2L2118.8 590.8L2119.8 534.9L2120.7 485.8L2121.7 447.6L2122.6 423.4L2123.6 415.1L2124.5 415.1L2125.5 415.1"/><rect x="220.0" y="608.0" width="574.2" height="4" fill="#d95319" stroke="none"/></g>
<text class="cm" y="1311.7"><tspan x="1020.95" font-size="78" textLength="169.21" lengthAdjust="spacingAndGlyphs">Time</tspan><tspan x="1194.37" font-size="90" textLength="17.13" lengthAdjust="spacingAndGlyphs" dy="7.00">[</tspan><tspan x="1209.19" font-size="76.5" textLength="97.90" lengthAdjust="spacingAndGlyphs" dy="-7.00">sec</tspan><tspan x="1306.34" font-size="90" textLength="16.56" lengthAdjust="spacingAndGlyphs" dy="7.00">]</tspan></text>
<text class="cm" transform="translate(79.8 792.8) rotate(-90)" y="0"><tspan x="0.00" font-size="81.3" textLength="245.56" lengthAdjust="spacingAndGlyphs">Voltage</tspan><tspan font-size="81.3"> </tspan><tspan x="275.07" font-size="90" textLength="15.13" lengthAdjust="spacingAndGlyphs" dy="7.00">[</tspan><tspan x="291.00" font-size="81.3" textLength="55.58" lengthAdjust="spacingAndGlyphs" dy="-7.00">V</tspan><tspan x="346.46" font-size="90" textLength="15.42" lengthAdjust="spacingAndGlyphs" dy="7.00">]</tspan></text>
<g class="lg">
<rect x="1098" y="74" width="992" height="111" fill="#262626" shape-rendering="crispEdges"/>
<rect x="1101" y="78" width="985" height="104" fill="#fff" shape-rendering="crispEdges"/>
<rect x="1113" y="104" width="142" height="4" fill="#0072bd" shape-rendering="crispEdges"/>
<rect x="1113" y="152" width="142" height="3" fill="#d95319" shape-rendering="crispEdges"/>
<text class="cm" y="116.1"><tspan x="1265.00" font-size="38.5" textLength="53.93" lengthAdjust="spacingAndGlyphs">PD</tspan><tspan font-size="38.5"> </tspan><tspan x="1332.05" font-size="38.5" textLength="114.31" lengthAdjust="spacingAndGlyphs">control</tspan><tspan font-size="38.5"> </tspan><tspan x="1460.16" font-size="38.5" textLength="111.70" lengthAdjust="spacingAndGlyphs">system</tspan><tspan font-size="38.5"> </tspan><tspan x="1585.39" font-size="38.5" textLength="89.92" lengthAdjust="spacingAndGlyphs">Input</tspan><tspan font-size="38.5"> </tspan><tspan x="1690.80" font-size="38.5" textLength="123.47" lengthAdjust="spacingAndGlyphs">Voltage</tspan><tspan font-size="38.5"> </tspan><tspan x="1828.00" font-size="38.5" textLength="32.85" lengthAdjust="spacingAndGlyphs">to</tspan><tspan font-size="38.5"> </tspan><tspan x="1873.90" font-size="38.5" textLength="146.08" lengthAdjust="spacingAndGlyphs">Actuator</tspan><tspan font-size="38.5"> </tspan><tspan x="2036.00" font-size="38.5" textLength="25.17" lengthAdjust="spacingAndGlyphs" font-style="italic">P</tspan><tspan x="2061.56" font-size="27" textLength="9.72" lengthAdjust="spacingAndGlyphs" dy="6.00">1</tspan></text>
<text class="cm" y="163.4"><tspan x="1265.04" font-size="38.5" textLength="151.49" lengthAdjust="spacingAndGlyphs">Proposed</tspan><tspan font-size="38.5"> </tspan><tspan x="1431.39" font-size="38.5" textLength="89.92" lengthAdjust="spacingAndGlyphs">Input</tspan><tspan font-size="38.5"> </tspan><tspan x="1536.80" font-size="38.5" textLength="123.47" lengthAdjust="spacingAndGlyphs">Voltage</tspan><tspan font-size="38.5"> </tspan><tspan x="1674.00" font-size="38.5" textLength="32.85" lengthAdjust="spacingAndGlyphs">to</tspan><tspan font-size="38.5"> </tspan><tspan x="1719.90" font-size="38.5" textLength="146.08" lengthAdjust="spacingAndGlyphs">Actuator</tspan><tspan font-size="38.5"> </tspan><tspan x="1881.80" font-size="38.5" textLength="25.17" lengthAdjust="spacingAndGlyphs" font-style="italic">P</tspan><tspan x="1907.36" font-size="27" textLength="9.72" lengthAdjust="spacingAndGlyphs" dy="6.00">1</tspan></text>
</g>
<text class="cap" y="1434.2"><tspan x="1040.09" font-size="87" textLength="26.88" lengthAdjust="spacingAndGlyphs">(</tspan><tspan x="1067.06" font-size="86" textLength="36.09" lengthAdjust="spacingAndGlyphs" font-weight="bold">c</tspan><tspan x="1103.33" font-size="87" textLength="26.74" lengthAdjust="spacingAndGlyphs" font-weight="normal">)</tspan></text>
</g>
<g id="plot2">
<path d="M411.9 2730.5v-20.3M411.9 1587.5v20.3M602.3 2730.5v-20.3M602.3 1587.5v20.3M792.7 2730.5v-20.3M792.7 1587.5v20.3M983.1 2730.5v-20.3M983.1 1587.5v20.3M1173.5 2730.5v-20.3M1173.5 1587.5v20.3M1363.9 2730.5v-20.3M1363.9 1587.5v20.3M1554.3 2730.5v-20.3M1554.3 1587.5v20.3M1744.7 2730.5v-20.3M1744.7 1587.5v20.3M1935.1 2730.5v-20.3M1935.1 1587.5v20.3M221.5 2616.2h20.3M2125.5 2616.2h-20.3M221.5 2501.9h20.3M2125.5 2501.9h-20.3M221.5 2387.6h20.3M2125.5 2387.6h-20.3M221.5 2273.3h20.3M2125.5 2273.3h-20.3M221.5 2159.0h20.3M2125.5 2159.0h-20.3M221.5 2044.7h20.3M2125.5 2044.7h-20.3M221.5 1930.4h20.3M2125.5 1930.4h-20.3M221.5 1816.1h20.3M2125.5 1816.1h-20.3M221.5 1701.8h20.3M2125.5 1701.8h-20.3" stroke="#262626" stroke-width="3.5" fill="none" shape-rendering="crispEdges"/>
<rect x="221.5" y="1587.5" width="1904.0" height="1143.0" fill="none" stroke="#262626" stroke-width="3" shape-rendering="crispEdges"/>
<g class="tk" font-size="43.4" letter-spacing="-0.9"><text transform="translate(221.2 2785.6) scale(0.91 1)" text-anchor="middle">0</text>
<text transform="translate(411.6 2785.6) scale(0.91 1)" text-anchor="middle">1</text>
<text transform="translate(602.0 2785.6) scale(0.91 1)" text-anchor="middle">2</text>
<text transform="translate(792.4 2785.6) scale(0.91 1)" text-anchor="middle">3</text>
<text transform="translate(982.8 2785.6) scale(0.91 1)" text-anchor="middle">4</text>
<text transform="translate(1173.2 2785.6) scale(0.91 1)" text-anchor="middle">5</text>
<text transform="translate(1363.6 2785.6) scale(0.91 1)" text-anchor="middle">6</text>
<text transform="translate(1554.0 2785.6) scale(0.91 1)" text-anchor="middle">7</text>
<text transform="translate(1744.4 2785.6) scale(0.91 1)" text-anchor="middle">8</text>
<text transform="translate(1934.8 2785.6) scale(0.91 1)" text-anchor="middle">9</text>
<text transform="translate(2125.2 2785.6) scale(0.91 1)" text-anchor="middle">10</text>
<text transform="translate(203.6 2745.7) scale(0.91 1)" text-anchor="end">−100</text>
<text transform="translate(203.6 2631.4) scale(0.91 1)" text-anchor="end">−80</text>
<text transform="translate(203.6 2517.1) scale(0.91 1)" text-anchor="end">−60</text>
<text transform="translate(203.6 2402.8) scale(0.91 1)" text-anchor="end">−40</text>
<text transform="translate(203.6 2288.5) scale(0.91 1)" text-anchor="end">−20</text>
<text transform="translate(203.6 2174.2) scale(0.91 1)" text-anchor="end">0</text>
<text transform="translate(203.6 2059.9) scale(0.91 1)" text-anchor="end">20</text>
<text transform="translate(203.6 1945.6) scale(0.91 1)" text-anchor="end">40</text>
<text transform="translate(203.6 1831.3) scale(0.91 1)" text-anchor="end">60</text>
<text transform="translate(203.6 1717.0) scale(0.91 1)" text-anchor="end">80</text>
<text transform="translate(203.6 1602.7) scale(0.91 1)" text-anchor="end">100</text></g>
<g fill="none" stroke-width="3.5" stroke-linejoin="round" shape-rendering="crispEdges"><path stroke="#0072bd" d="M221.5 2159.0L792.7 2159.0L793.7 2246.6L794.6 2379.9L795.6 2530.7L796.5 2664.1L797.5 2730.5L798.4 2689.5L799.4 2605.7L800.3 2502.9L801.3 2385.2L802.2 2258.1L803.2 2127.9L804.1 2000.8L805.1 1883.1L806.0 1780.3L807.0 1696.5L807.9 1634.4L808.9 1695.4L809.8 1779.2L810.8 1882.4L811.7 1999.7L812.7 2124.4L813.6 2249.1L814.6 2366.5L815.5 2469.7L816.5 2553.5L817.5 2614.5L818.4 2561.5L819.4 2488.7L820.3 2399.0L821.3 2297.1L822.2 2188.7L823.2 2080.4L824.1 1978.4L825.1 1888.8L826.0 1815.9L827.0 1763.0L827.9 1813.9L828.9 1885.4L829.8 1973.5L830.8 2072.5L831.7 2175.2L832.7 2274.2L833.6 2362.3L834.6 2433.8L835.5 2484.8L836.5 2453.3L837.4 2410.9L838.4 2358.8L839.3 2299.2L840.3 2234.9L841.3 2168.9L842.2 2104.5L843.2 2044.9L844.1 1992.9L845.1 1950.4L846.0 1919.0L847.0 1942.8L847.9 1974.9L848.9 2014.3L849.8 2059.4L850.8 2108.0L851.7 2158.0L852.7 2206.6L853.6 2251.7L854.6 2291.1L855.5 2323.2L856.5 2347.0L857.4 2320.1L858.4 2284.4L859.3 2240.8L860.3 2190.7L861.2 2136.0L862.2 2079.0L863.1 2022.0L864.1 1967.3L865.1 1917.2L866.0 1873.6L867.0 1837.9L867.9 1811.0L868.9 1866.7L869.8 1944.7L870.8 2041.0L871.7 2149.1L872.7 2261.4L873.6 2369.6L874.6 2465.9L875.5 2543.9L876.5 2599.6L877.4 2555.3L878.4 2495.6L879.3 2422.2L880.3 2338.3L881.2 2247.7L882.2 2154.8L883.1 2064.2L884.1 1980.3L885.0 1907.0L886.0 1847.2L886.9 1803.0L887.9 1861.2L888.9 1944.7L889.8 2047.3L890.8 2160.4L891.7 2273.5L892.7 2376.2L893.6 2459.6L894.6 2517.9L895.5 2482.0L896.5 2433.6L897.4 2374.1L898.4 2306.1L899.3 2232.7L900.3 2157.4L901.2 2083.9L902.2 2015.9L903.1 1956.4L904.1 1908.0L905.0 1872.1L906.0 1915.8L906.9 1978.3L907.9 2055.2L908.8 2139.9L909.8 2224.6L910.7 2301.5L911.7 2363.9L912.7 2407.6L913.6 2387.0L914.6 2359.5L915.5 2326.0L916.5 2287.6L917.4 2245.6L918.4 2201.9L919.3 2158.1L920.3 2116.1L921.2 2077.7L922.2 2044.2L923.1 2016.8L924.1 1996.1L925.0 2015.4L926.0 2042.0L926.9 2074.7L927.9 2111.8L928.8 2151.3L929.8 2190.8L930.7 2227.9L931.7 2260.6L932.6 2287.1L933.6 2306.4L934.5 2286.2L935.5 2259.8L936.5 2227.6L937.4 2190.6L938.4 2150.0L939.3 2107.1L940.3 2063.4L941.2 2020.5L942.2 1979.9L943.1 1943.0L944.1 1910.8L945.0 1884.3L946.0 1864.1L946.9 1911.6L947.9 1978.2L948.8 2060.3L949.8 2152.5L950.7 2248.3L951.7 2340.6L952.6 2422.7L953.6 2489.3L954.5 2536.8L955.5 2494.0L956.4 2435.2L957.4 2362.8L958.3 2280.5L959.3 2193.0L960.3 2105.5L961.2 2023.2L962.2 1950.8L963.1 1892.0L964.1 1849.2L965.0 1892.0L966.0 1952.0L966.9 2025.9L967.9 2109.0L968.8 2195.3L969.8 2278.3L970.7 2352.3L971.7 2412.2L972.6 2455.0L973.6 2425.1L974.5 2384.8L975.5 2335.3L976.4 2278.7L977.4 2217.5L978.3 2154.8L979.3 2093.6L980.2 2037.0L981.2 1987.5L982.1 1947.1L983.1 1917.3L984.1 1943.9L985.0 1980.5L986.0 2025.6L986.9 2076.8L987.9 2131.3L988.8 2185.8L989.8 2237.0L990.7 2282.1L991.7 2318.7L992.6 2345.3L993.6 2329.1L994.5 2307.5L995.5 2281.2L996.4 2251.0L997.4 2218.0L998.3 2183.6L999.3 2149.2L1000.2 2116.2L1001.2 2086.0L1002.1 2059.6L1003.1 2038.1L1004.0 2021.8L1005.0 2034.7L1005.9 2051.7L1006.9 2072.5L1007.9 2096.3L1008.8 2122.4L1009.8 2149.6L1010.7 2176.7L1011.7 2202.8L1012.6 2226.7L1013.6 2247.5L1014.5 2264.5L1015.5 2277.3L1016.4 2246.6L1017.4 2203.5L1018.3 2150.5L1019.3 2090.8L1020.2 2028.9L1021.2 1969.2L1022.1 1916.1L1023.1 1873.1L1024.0 1842.4L1025.0 1893.3L1025.9 1964.7L1026.9 2052.7L1027.8 2151.7L1028.8 2254.3L1029.7 2353.3L1030.7 2441.3L1031.7 2512.7L1032.6 2563.6L1033.6 2522.4L1034.5 2466.7L1035.5 2398.5L1036.4 2320.3L1037.4 2236.0L1038.3 2149.5L1039.3 2065.1L1040.2 1987.0L1041.2 1918.7L1042.1 1863.0L1043.1 1821.8L1044.0 1873.3L1045.0 1946.9L1045.9 2037.5L1046.9 2137.3L1047.8 2237.1L1048.8 2327.7L1049.7 2401.3L1050.7 2452.8L1051.6 2422.1L1052.6 2380.7L1053.5 2330.0L1054.5 2271.9L1055.5 2209.2L1056.4 2144.8L1057.4 2082.1L1058.3 2024.0L1059.3 1973.3L1060.2 1931.9L1061.2 1901.3L1062.1 1925.8L1063.1 1959.0L1064.0 1999.7L1065.0 2046.3L1065.9 2096.6L1066.9 2148.2L1067.8 2198.5L1068.8 2245.1L1069.7 2285.8L1070.7 2319.0L1071.6 2343.6L1072.6 2324.1L1073.5 2297.7L1074.5 2265.3L1075.4 2228.3L1076.4 2188.4L1077.3 2147.4L1078.3 2107.4L1079.3 2070.4L1080.2 2038.0L1081.2 2011.7L1082.1 1992.1L1083.1 2006.9L1084.0 2026.4L1085.0 2050.4L1085.9 2077.8L1086.9 2107.8L1087.8 2139.0L1088.8 2170.2L1089.7 2200.2L1090.7 2227.6L1091.6 2251.6L1092.6 2271.1L1093.5 2285.9L1094.5 2256.6L1095.4 2216.3L1096.4 2166.7L1097.3 2110.3L1098.3 2050.4L1099.2 1990.5L1100.2 1934.1L1101.1 1884.5L1102.1 1844.3L1103.1 1815.0L1104.0 1873.8L1105.0 1958.0L1105.9 2061.7L1106.9 2175.9L1107.8 2290.0L1108.8 2393.7L1109.7 2477.9L1110.7 2536.8L1111.6 2489.7L1112.6 2425.1L1113.5 2345.6L1114.5 2255.1L1115.4 2159.0L1116.4 2062.9L1117.3 1972.4L1118.3 1892.9L1119.2 1828.3L1120.2 1781.2L1121.1 1819.4L1122.1 1870.9L1123.0 1934.1L1124.0 2006.3L1124.9 2084.4L1125.9 2164.4L1126.9 2242.5L1127.8 2314.8L1128.8 2378.0L1129.7 2429.5L1130.7 2467.6L1131.6 2426.4L1132.6 2368.6L1133.5 2297.4L1134.5 2217.4L1135.4 2134.3L1136.4 2054.3L1137.3 1983.1L1138.3 1925.3L1139.2 1884.1L1140.2 1915.6L1141.1 1958.8L1142.1 2012.1L1143.0 2072.6L1144.0 2137.0L1144.9 2201.4L1145.9 2261.9L1146.8 2315.2L1147.8 2358.4L1148.7 2389.9L1149.7 2367.8L1150.7 2338.4L1151.6 2302.5L1152.6 2261.4L1153.5 2216.4L1154.5 2169.6L1155.4 2122.7L1156.4 2077.8L1157.3 2036.6L1158.3 2000.7L1159.2 1971.4L1160.2 1949.3L1161.1 1971.3L1162.1 2001.1L1163.0 2037.6L1164.0 2079.3L1164.9 2124.4L1165.9 2170.7L1166.8 2215.8L1167.8 2257.6L1168.7 2294.1L1169.7 2323.8L1170.6 2345.9L1171.6 2314.4L1172.5 2271.9L1173.5 2219.8L1174.5 2160.1L1175.4 2095.7L1176.4 2029.7L1177.3 1965.3L1178.3 1905.6L1179.2 1853.5L1180.2 1811.0L1181.1 1779.5L1182.1 1847.5L1183.0 1944.7L1184.0 2064.4L1184.9 2196.1L1185.9 2327.9L1186.8 2447.6L1187.8 2544.8L1188.7 2612.8L1189.7 2559.8L1190.6 2487.0L1191.6 2397.3L1192.5 2295.4L1193.5 2187.0L1194.4 2078.6L1195.4 1976.7L1196.3 1887.0L1197.3 1814.2L1198.3 1761.2L1199.2 1813.8L1200.2 1887.3L1201.1 1978.1L1202.1 2080.1L1203.0 2185.9L1204.0 2287.9L1204.9 2378.7L1205.9 2452.2L1206.8 2504.8L1207.8 2468.2L1208.7 2418.9L1209.7 2358.4L1210.6 2289.2L1211.6 2214.5L1212.5 2137.8L1213.5 2063.1L1214.4 1993.9L1215.4 1933.4L1216.3 1884.1L1217.3 1847.5L1218.2 1886.9L1219.2 1942.0L1220.1 2010.1L1221.1 2086.5L1222.1 2165.8L1223.0 2242.2L1224.0 2310.2L1224.9 2365.4L1225.9 2404.7L1226.8 2384.8L1227.8 2358.7L1228.7 2327.0L1229.7 2290.6L1230.6 2250.5L1231.6 2208.2L1232.5 2165.2L1233.5 2122.9L1234.4 2082.9L1235.4 2046.4L1236.3 2014.7L1237.3 1988.6L1238.2 1968.7L1239.2 1989.8L1240.1 2018.8L1241.1 2054.6L1242.0 2095.2L1243.0 2138.4L1243.9 2181.6L1244.9 2222.3L1245.9 2258.0L1246.8 2287.0L1247.8 2308.2L1248.7 2281.3L1249.7 2245.1L1250.6 2200.6L1251.6 2149.8L1252.5 2094.9L1253.5 2038.5L1254.4 1983.6L1255.4 1932.8L1256.3 1888.3L1257.3 1852.1L1258.2 1825.2L1259.2 1885.1L1260.1 1970.8L1261.1 2076.3L1262.0 2192.4L1263.0 2308.6L1263.9 2414.1L1264.9 2499.7L1265.8 2559.6L1266.8 2517.5L1267.7 2460.6L1268.7 2390.8L1269.7 2310.9L1270.6 2224.6L1271.6 2136.2L1272.5 2050.0L1273.5 1970.1L1274.4 1900.3L1275.4 1843.4L1276.3 1801.2L1277.3 1855.3L1278.2 1932.7L1279.2 2027.9L1280.1 2132.7L1281.1 2237.6L1282.0 2332.8L1283.0 2410.1L1283.9 2464.2L1284.9 2435.7L1285.8 2397.8L1286.8 2351.6L1287.7 2298.5L1288.7 2240.6L1289.6 2180.1L1290.6 2119.7L1291.5 2061.8L1292.5 2008.7L1293.5 1962.5L1294.4 1924.6L1295.4 1896.1L1296.3 1929.4L1297.3 1976.1L1298.2 2033.6L1299.2 2098.3L1300.1 2165.4L1301.1 2230.1L1302.0 2287.6L1303.0 2334.3L1303.9 2367.6L1304.9 2351.0L1305.8 2329.2L1306.8 2302.7L1307.7 2272.3L1308.7 2238.9L1309.6 2203.5L1310.6 2167.6L1311.5 2132.3L1312.5 2098.9L1313.4 2068.4L1314.4 2042.0L1315.3 2020.2L1316.3 2003.6L1317.3 2024.1L1318.2 2053.0L1319.2 2088.6L1320.1 2128.5L1321.1 2170.0L1322.0 2210.0L1323.0 2245.6L1323.9 2274.4L1324.9 2295.0L1325.8 2271.8L1326.8 2241.1L1327.7 2203.5L1328.7 2160.3L1329.6 2113.3L1330.6 2064.1L1331.5 2015.0L1332.5 1967.9L1333.4 1924.8L1334.4 1887.2L1335.3 1856.4L1336.3 1833.2L1337.2 1885.5L1338.2 1958.8L1339.1 2049.1L1340.1 2150.6L1341.1 2256.0L1342.0 2357.5L1343.0 2447.8L1343.9 2521.1L1344.9 2573.3L1345.8 2526.2L1346.8 2461.4L1347.7 2381.6L1348.7 2290.9L1349.6 2194.4L1350.6 2098.0L1351.5 2007.3L1352.5 1927.5L1353.4 1862.7L1354.4 1815.5L1355.3 1861.6L1356.3 1926.1L1357.2 2005.7L1358.2 2095.1L1359.1 2188.0L1360.1 2277.4L1361.0 2357.0L1362.0 2421.6L1362.9 2467.6L1363.9 2435.7L1364.9 2392.5L1365.8 2339.6L1366.8 2279.1L1367.7 2213.7L1368.7 2146.6L1369.6 2081.2L1370.6 2020.7L1371.5 1967.8L1372.5 1924.6L1373.4 1892.7L1374.4 1929.1L1375.3 1981.2L1376.3 2045.3L1377.2 2115.9L1378.2 2186.4L1379.1 2250.5L1380.1 2302.6L1381.0 2339.0L1382.0 2323.2L1382.9 2302.5L1383.9 2277.4L1384.8 2248.5L1385.8 2216.7L1386.7 2183.2L1387.7 2149.1L1388.7 2115.5L1389.6 2083.8L1390.6 2054.9L1391.5 2029.8L1392.5 2009.1L1393.4 1993.3L1394.4 2012.6L1395.3 2039.3L1396.3 2072.1L1397.2 2109.4L1398.2 2149.0L1399.1 2188.6L1400.1 2225.9L1401.0 2258.7L1402.0 2285.3L1402.9 2304.7L1403.9 2281.5L1404.8 2250.6L1405.8 2212.9L1406.7 2169.5L1407.7 2122.3L1408.6 2073.0L1409.6 2023.7L1410.5 1976.4L1411.5 1933.1L1412.5 1895.4L1413.4 1864.5L1414.4 1841.2L1415.3 1898.9L1416.3 1981.4L1417.2 2082.9L1418.2 2194.7L1419.1 2306.5L1420.1 2408.1L1421.0 2490.6L1422.0 2548.2L1422.9 2507.0L1423.9 2451.5L1424.8 2383.3L1425.8 2305.3L1426.7 2221.0L1427.7 2134.7L1428.6 2050.4L1429.6 1972.4L1430.5 1904.3L1431.5 1848.7L1432.4 1807.5L1433.4 1853.2L1434.3 1917.2L1435.3 1996.1L1436.3 2084.7L1437.2 2176.7L1438.2 2265.4L1439.1 2344.3L1440.1 2408.2L1441.0 2453.9L1442.0 2419.6L1442.9 2372.4L1443.9 2314.3L1444.8 2248.3L1445.8 2178.1L1446.7 2108.0L1447.7 2042.0L1448.6 1983.9L1449.6 1936.7L1450.5 1902.4L1451.5 1929.1L1452.4 1965.1L1453.4 2009.3L1454.3 2059.8L1455.3 2114.4L1456.2 2170.4L1457.2 2225.0L1458.1 2275.6L1459.1 2319.8L1460.1 2355.8L1461.0 2382.5L1462.0 2359.8L1462.9 2329.2L1463.9 2291.7L1464.8 2248.8L1465.8 2202.5L1466.7 2155.0L1467.7 2108.6L1468.6 2065.7L1469.6 2028.2L1470.5 1997.6L1471.5 1975.0L1472.4 2006.5L1473.4 2052.7L1474.3 2109.0L1475.3 2169.0L1476.2 2225.3L1477.2 2271.5L1478.1 2303.0L1479.1 2288.4L1480.0 2270.0L1481.0 2248.0L1481.9 2222.8L1482.9 2194.8L1483.9 2164.7L1484.8 2133.1L1485.8 2100.7L1486.7 2068.3L1487.7 2036.7L1488.6 2006.6L1489.6 1978.6L1490.5 1953.4L1491.5 1931.4L1492.4 1913.0L1493.4 1898.4L1494.3 1961.8L1495.3 2054.6L1496.2 2167.7L1497.2 2288.1L1498.1 2401.2L1499.1 2494.0L1500.0 2557.3L1501.0 2518.8L1501.9 2466.7L1502.9 2402.9L1503.8 2329.8L1504.8 2250.9L1505.7 2170.0L1506.7 2091.1L1507.7 2018.0L1508.6 1954.1L1509.6 1902.1L1510.5 1863.5L1511.5 1912.5L1512.4 1982.5L1513.4 2068.7L1514.3 2163.6L1515.3 2258.5L1516.2 2344.7L1517.2 2414.7L1518.1 2463.6L1519.1 2436.2L1520.0 2399.8L1521.0 2355.3L1521.9 2304.3L1522.9 2248.5L1523.8 2190.4L1524.8 2132.3L1525.7 2076.6L1526.7 2025.6L1527.6 1981.1L1528.6 1944.7L1529.5 1917.3L1530.5 1961.3L1531.5 2025.7L1532.4 2104.3L1533.4 2188.0L1534.3 2266.5L1535.3 2331.0L1536.2 2375.0L1537.2 2357.4L1538.1 2334.0L1539.1 2305.4L1540.0 2272.5L1541.0 2236.7L1541.9 2199.3L1542.9 2161.9L1543.8 2126.1L1544.8 2093.2L1545.7 2064.6L1546.7 2041.2L1547.6 2023.6L1548.6 2038.4L1549.5 2058.8L1550.5 2084.0L1551.4 2112.6L1552.4 2143.0L1553.3 2173.4L1554.3 2202.0L1555.3 2227.1L1556.2 2247.6L1557.2 2262.4L1558.1 2248.5L1559.1 2230.4L1560.0 2208.7L1561.0 2183.6L1561.9 2156.0L1562.9 2126.5L1563.8 2096.1L1564.8 2065.8L1565.7 2036.3L1566.7 2008.7L1567.6 1983.6L1568.6 1961.8L1569.5 1943.8L1570.5 1929.8L1571.4 1974.2L1572.4 2037.8L1573.3 2116.0L1574.3 2202.1L1575.2 2288.3L1576.2 2366.5L1577.1 2430.1L1578.1 2474.5L1579.1 2441.5L1580.0 2396.9L1581.0 2342.3L1581.9 2279.7L1582.9 2212.2L1583.8 2143.0L1584.8 2075.4L1585.7 2012.9L1586.7 1958.2L1587.6 1913.7L1588.6 1880.7L1589.5 1922.1L1590.5 1981.4L1591.4 2054.4L1592.4 2134.7L1593.3 2215.1L1594.3 2288.0L1595.2 2347.3L1596.2 2388.7L1597.1 2363.9L1598.1 2330.3L1599.0 2289.1L1600.0 2242.0L1600.9 2191.1L1601.9 2138.9L1602.9 2088.0L1603.8 2040.9L1604.8 1999.7L1605.7 1966.1L1606.7 1941.3L1607.6 1962.8L1608.6 1991.9L1609.5 2027.7L1610.5 2068.5L1611.4 2112.7L1612.4 2157.9L1613.3 2202.0L1614.3 2242.9L1615.2 2278.6L1616.2 2307.7L1617.1 2329.3L1618.1 2312.9L1619.0 2290.6L1620.0 2263.4L1620.9 2232.2L1621.9 2198.5L1622.8 2164.0L1623.8 2130.4L1624.7 2099.2L1625.7 2071.9L1626.7 2049.7L1627.6 2033.3L1628.6 2046.6L1629.5 2064.9L1630.5 2087.5L1631.4 2113.2L1632.4 2140.4L1633.3 2167.7L1634.3 2193.3L1635.2 2215.9L1636.2 2234.2L1637.1 2247.6L1638.1 2230.9L1639.0 2208.9L1640.0 2181.9L1640.9 2150.9L1641.9 2117.1L1642.8 2081.8L1643.8 2046.6L1644.7 2012.8L1645.7 1981.8L1646.6 1954.8L1647.6 1932.7L1648.5 1916.1L1649.5 1961.7L1650.5 2026.9L1651.4 2107.2L1652.4 2195.6L1653.3 2284.0L1654.3 2364.2L1655.2 2429.5L1656.2 2475.0L1657.1 2446.1L1658.1 2407.7L1659.0 2360.7L1660.0 2306.9L1660.9 2248.1L1661.9 2186.7L1662.8 2125.4L1663.8 2066.6L1664.7 2012.7L1665.7 1965.8L1666.6 1927.3L1667.6 1898.4L1668.5 1938.3L1669.5 1995.5L1670.4 2065.8L1671.4 2143.3L1672.3 2220.8L1673.3 2291.1L1674.3 2348.2L1675.2 2388.2L1676.2 2363.9L1677.1 2331.1L1678.1 2290.8L1679.0 2244.8L1680.0 2195.1L1680.9 2144.1L1681.9 2094.4L1682.8 2048.3L1683.8 2008.1L1684.7 1975.3L1685.7 1951.0L1686.6 1974.4L1687.6 2006.6L1688.5 2046.3L1689.5 2091.4L1690.4 2139.3L1691.4 2187.2L1692.3 2232.3L1693.3 2271.9L1694.2 2304.2L1695.2 2327.6L1696.1 2309.6L1697.1 2285.2L1698.1 2255.3L1699.0 2221.1L1700.0 2184.2L1700.9 2146.4L1701.9 2109.4L1702.8 2075.3L1703.8 2045.4L1704.7 2021.0L1705.7 2003.0L1706.6 2022.2L1707.6 2049.1L1708.5 2082.3L1709.5 2119.6L1710.4 2158.4L1711.4 2195.7L1712.3 2228.9L1713.3 2255.8L1714.2 2275.0L1715.2 2255.1L1716.1 2228.6L1717.1 2196.3L1718.0 2159.2L1719.0 2118.7L1719.9 2076.4L1720.9 2034.2L1721.9 1993.7L1722.8 1956.6L1723.8 1924.2L1724.7 1897.8L1725.7 1877.8L1726.6 1921.5L1727.6 1982.8L1728.5 2058.3L1729.5 2143.2L1730.4 2231.4L1731.4 2316.2L1732.3 2391.8L1733.3 2453.0L1734.2 2496.8L1735.2 2460.8L1736.1 2412.2L1737.1 2352.6L1738.0 2284.4L1739.0 2210.8L1739.9 2135.2L1740.9 2061.6L1741.8 1993.4L1742.8 1933.8L1743.7 1885.2L1744.7 1849.2L1745.7 1884.2L1746.6 1932.3L1747.6 1991.6L1748.5 2058.9L1749.5 2130.4L1750.4 2202.0L1751.4 2269.3L1752.3 2328.5L1753.3 2376.6L1754.2 2411.6L1755.2 2377.6L1756.1 2330.0L1757.1 2271.3L1758.0 2205.3L1759.0 2136.7L1759.9 2070.8L1760.9 2012.0L1761.8 1964.4L1762.8 1930.4L1763.7 1955.3L1764.7 1989.4L1765.6 2031.5L1766.6 2079.3L1767.5 2130.1L1768.5 2181.0L1769.5 2228.8L1770.4 2270.9L1771.4 2305.0L1772.3 2329.9L1773.3 2313.2L1774.2 2291.2L1775.2 2264.2L1776.1 2233.2L1777.1 2199.4L1778.0 2164.1L1779.0 2128.9L1779.9 2095.1L1780.9 2064.1L1781.8 2037.1L1782.8 2015.0L1783.7 1998.4L1784.7 2013.6L1785.6 2033.7L1786.6 2058.2L1787.5 2086.4L1788.5 2117.2L1789.4 2149.3L1790.4 2181.4L1791.3 2212.1L1792.3 2240.3L1793.3 2264.9L1794.2 2285.0L1795.2 2300.2L1796.1 2269.0L1797.1 2226.2L1798.0 2173.5L1799.0 2113.6L1799.9 2049.8L1800.9 1986.1L1801.8 1926.2L1802.8 1873.5L1803.7 1830.7L1804.7 1799.5L1805.6 1862.6L1806.6 1952.8L1807.5 2063.8L1808.5 2186.1L1809.4 2308.5L1810.4 2419.5L1811.3 2509.7L1812.3 2572.8L1813.2 2529.1L1814.2 2470.1L1815.1 2397.8L1816.1 2315.0L1817.1 2225.7L1818.0 2134.0L1819.0 2044.7L1819.9 1961.9L1820.9 1889.6L1821.8 1830.6L1822.8 1787.0L1823.7 1842.5L1824.7 1922.0L1825.6 2019.8L1826.6 2127.6L1827.5 2235.3L1828.5 2333.1L1829.4 2412.6L1830.4 2468.2L1831.3 2435.3L1832.3 2390.9L1833.2 2336.4L1834.2 2274.0L1835.1 2206.7L1836.1 2137.6L1837.0 2070.3L1838.0 2007.9L1838.9 1953.4L1839.9 1909.0L1840.9 1876.1L1841.8 1909.8L1842.8 1956.1L1843.7 2013.1L1844.7 2077.8L1845.6 2146.7L1846.6 2215.6L1847.5 2280.4L1848.5 2337.4L1849.4 2383.6L1850.4 2417.3L1851.3 2397.8L1852.3 2372.3L1853.2 2341.3L1854.2 2305.7L1855.1 2266.5L1856.1 2225.2L1857.0 2183.1L1858.0 2141.8L1858.9 2102.6L1859.9 2067.0L1860.8 2036.0L1861.8 2010.5L1862.7 1991.0L1863.7 2012.3L1864.7 2042.3L1865.6 2079.2L1866.6 2120.6L1867.5 2163.7L1868.5 2205.1L1869.4 2242.0L1870.4 2271.9L1871.3 2293.3L1872.3 2265.8L1873.2 2228.7L1874.2 2183.1L1875.1 2131.0L1876.1 2074.7L1877.0 2017.0L1878.0 1960.7L1878.9 1908.6L1879.9 1863.0L1880.8 1825.9L1881.8 1798.4L1882.7 1852.4L1883.7 1928.2L1884.6 2021.6L1885.6 2126.5L1886.5 2235.5L1887.5 2340.4L1888.5 2433.8L1889.4 2509.6L1890.4 2563.6L1891.3 2519.7L1892.3 2460.4L1893.2 2387.6L1894.2 2304.4L1895.1 2214.5L1896.1 2122.3L1897.0 2032.5L1898.0 1949.2L1898.9 1876.5L1899.9 1817.2L1900.8 1773.2L1901.8 1828.8L1902.7 1908.4L1903.7 2006.3L1904.6 2114.1L1905.6 2222.0L1906.5 2319.9L1907.5 2399.4L1908.4 2455.0L1909.4 2419.1L1910.3 2369.8L1911.3 2309.1L1912.3 2240.1L1913.2 2166.7L1914.2 2093.3L1915.1 2024.3L1916.1 1963.6L1917.0 1914.3L1918.0 1878.4L1918.9 1908.4L1919.9 1948.9L1920.8 1998.6L1921.8 2055.5L1922.7 2116.9L1923.7 2179.9L1924.6 2241.3L1925.6 2298.2L1926.5 2347.9L1927.5 2388.4L1928.4 2418.5L1929.4 2395.8L1930.3 2365.8L1931.3 2329.1L1932.2 2286.9L1933.2 2241.0L1934.1 2193.0L1935.1 2145.0L1936.1 2099.1L1937.0 2056.9L1938.0 2020.2L1938.9 1990.2L1939.9 1967.5L1940.8 1987.0L1941.8 2013.2L1942.7 2045.4L1943.7 2082.3L1944.6 2122.0L1945.6 2162.8L1946.5 2202.6L1947.5 2239.4L1948.4 2271.6L1949.4 2297.9L1950.3 2317.3L1951.3 2290.4L1952.2 2254.0L1953.2 2209.4L1954.1 2158.4L1955.1 2103.2L1956.0 2046.7L1957.0 1991.6L1957.9 1940.6L1958.9 1896.0L1959.9 1859.6L1960.8 1832.7L1961.8 1892.5L1962.7 1978.2L1963.7 2083.7L1964.6 2199.9L1965.6 2316.0L1966.5 2421.5L1967.5 2507.2L1968.4 2567.1L1969.4 2525.3L1970.3 2468.9L1971.3 2399.7L1972.2 2320.6L1973.2 2235.1L1974.1 2147.5L1975.1 2062.0L1976.0 1982.9L1977.0 1913.7L1977.9 1857.3L1978.9 1815.5L1979.8 1862.6L1980.8 1928.6L1981.7 2010.1L1982.7 2101.5L1983.7 2196.5L1984.6 2287.9L1985.6 2369.4L1986.5 2435.4L1987.5 2482.5L1988.4 2446.4L1989.4 2396.9L1990.3 2336.0L1991.3 2266.7L1992.2 2193.0L1993.2 2119.3L1994.1 2050.0L1995.1 1989.1L1996.0 1939.6L1997.0 1903.5L1997.9 1937.1L1998.9 1984.1L1999.8 2042.1L2000.8 2107.2L2001.7 2174.8L2002.7 2239.9L2003.6 2297.9L2004.6 2344.9L2005.5 2378.5L2006.5 2362.1L2007.5 2340.7L2008.4 2314.7L2009.4 2284.8L2010.3 2251.9L2011.3 2217.2L2012.2 2181.9L2013.2 2147.2L2014.1 2114.4L2015.1 2084.5L2016.0 2058.5L2017.0 2037.1L2017.9 2020.7L2018.9 2034.3L2019.8 2052.1L2020.8 2073.7L2021.7 2098.5L2022.7 2125.8L2023.6 2154.6L2024.6 2184.0L2025.5 2212.8L2026.5 2240.1L2027.4 2264.9L2028.4 2286.5L2029.3 2304.3L2030.3 2317.9L2031.3 2283.6L2032.2 2234.5L2033.2 2174.1L2034.1 2107.6L2035.1 2041.0L2036.0 1980.6L2037.0 1931.5L2037.9 1897.3L2038.9 1940.7L2039.8 2001.5L2040.8 2076.6L2041.7 2160.9L2042.7 2248.5L2043.6 2332.8L2044.6 2407.9L2045.5 2468.8L2046.5 2512.2L2047.4 2475.4L2048.4 2425.8L2049.3 2364.8L2050.3 2295.1L2051.2 2219.9L2052.2 2142.7L2053.1 2067.4L2054.1 1997.7L2055.1 1936.8L2056.0 1887.2L2057.0 1850.4L2057.9 1884.9L2058.9 1932.2L2059.8 1990.5L2060.8 2056.8L2061.7 2127.3L2062.7 2197.8L2063.6 2264.0L2064.6 2322.4L2065.5 2369.7L2066.5 2404.2L2067.4 2370.8L2068.4 2324.0L2069.3 2266.3L2070.3 2201.5L2071.2 2134.2L2072.2 2069.4L2073.1 2011.7L2074.1 1964.9L2075.0 1931.5L2076.0 1959.0L2076.9 1996.7L2077.9 2043.2L2078.9 2096.0L2079.8 2152.1L2080.8 2208.3L2081.7 2261.1L2082.7 2307.6L2083.6 2345.3L2084.6 2372.7L2085.5 2353.8L2086.5 2328.7L2087.4 2298.0L2088.4 2262.7L2089.3 2224.3L2090.3 2184.1L2091.2 2144.0L2092.2 2105.6L2093.1 2070.3L2094.1 2039.6L2095.0 2014.5L2096.0 1995.6L2096.9 2021.1L2097.9 2057.7L2098.8 2102.8L2099.8 2152.4L2100.7 2202.1L2101.7 2247.1L2102.7 2283.7L2103.6 2309.3L2104.6 2291.4L2105.5 2268.0L2106.5 2239.6L2107.4 2207.0L2108.4 2171.1L2109.3 2133.1L2110.3 2094.6L2111.2 2056.6L2112.2 2020.7L2113.1 1988.1L2114.1 1959.7L2115.0 1936.3L2116.0 1918.4L2116.9 1959.4L2117.9 2016.8L2118.8 2087.6L2119.8 2167.1L2120.7 2249.7L2121.7 2329.3L2122.6 2400.1L2123.6 2457.5L2124.5 2498.5L2125.5 2498.5"/>
<path stroke="#d95319" d="M221.5 2159.0L792.7 2159.0L793.7 2334.5L794.6 2269.8L795.6 2100.5L796.5 1891.2L797.5 1721.9L798.4 1657.2L799.4 1680.5L800.3 1747.9L801.3 1852.9L802.2 1985.2L803.2 2131.9L804.1 2278.5L805.1 2410.8L806.0 2515.8L807.0 2583.3L807.9 2606.5L808.9 2587.2L809.8 2530.7L810.8 2441.8L811.7 2327.5L812.7 2197.2L813.6 2061.4L814.6 1931.0L815.5 1816.8L816.5 1727.8L817.5 1671.4L818.4 1652.1L819.4 1676.9L820.3 1748.8L821.3 1860.9L822.2 2002.2L823.2 2158.7L824.1 2315.3L825.1 2456.5L826.0 2568.6L827.0 2640.6L827.9 2665.3L828.9 2640.4L829.8 2568.2L830.8 2455.6L831.7 2313.7L832.7 2156.4L833.6 1999.2L834.6 1857.3L835.5 1744.7L836.5 1672.4L837.4 1647.5L838.4 1672.3L839.3 1744.2L840.3 1856.2L841.3 1997.4L842.2 2153.9L843.2 2310.3L844.1 2451.5L845.1 2563.5L846.0 2635.4L847.0 2660.2L847.9 2640.1L848.9 2581.3L849.8 2488.7L850.8 2369.7L851.7 2234.0L852.7 2092.6L853.6 1956.9L854.6 1837.9L855.5 1745.3L856.5 1686.5L857.4 1666.4L858.4 1695.1L859.3 1777.7L860.3 1904.3L861.2 2059.5L862.2 2224.8L863.1 2380.0L864.1 2506.6L865.1 2589.2L866.0 2617.9L867.0 2600.1L867.9 2548.2L868.9 2466.3L869.8 2361.2L870.8 2241.2L871.7 2116.2L872.7 1996.3L873.6 1891.1L874.6 1809.2L875.5 1757.3L876.5 1739.5L877.4 1759.5L878.4 1817.5L879.3 1907.8L880.3 2021.7L881.2 2147.9L882.2 2274.0L883.1 2387.9L884.1 2478.2L885.0 2536.2L886.0 2556.2L886.9 2539.1L887.9 2489.3L888.9 2410.7L889.8 2309.8L890.8 2194.7L891.7 2074.7L892.7 1959.6L893.6 1858.7L894.6 1780.1L895.5 1730.3L896.5 1713.2L897.4 1735.0L898.4 1798.3L899.3 1896.9L900.3 2021.1L901.2 2158.7L902.2 2296.4L903.1 2420.6L904.1 2519.1L905.0 2582.4L906.0 2604.2L906.9 2582.3L907.9 2518.8L908.8 2420.0L909.8 2295.4L910.7 2157.3L911.7 2019.2L912.7 1894.6L913.6 1795.7L914.6 1732.2L915.5 1710.4L916.5 1731.9L917.4 1794.5L918.4 1892.0L919.3 2014.8L920.3 2151.0L921.2 2287.2L922.2 2410.0L923.1 2507.5L924.1 2570.1L925.0 2591.6L926.0 2570.6L926.9 2509.5L927.9 2414.5L928.8 2294.7L929.8 2161.9L930.7 2029.1L931.7 1909.2L932.6 1814.2L933.6 1753.1L934.5 1732.1L935.5 1752.2L936.5 1810.5L937.4 1901.4L938.4 2015.8L939.3 2142.7L940.3 2269.6L941.2 2384.1L942.2 2474.9L943.1 2533.2L944.1 2553.3L945.0 2534.9L946.0 2481.5L946.9 2398.2L947.9 2293.3L948.8 2177.0L949.8 2060.7L950.7 1955.8L951.7 1872.5L952.6 1819.1L953.6 1800.7L954.5 1814.6L955.5 1855.3L956.4 1919.5L957.4 2002.0L958.3 2096.0L959.3 2194.0L960.3 2288.0L961.2 2370.5L962.2 2434.7L963.1 2475.4L964.1 2489.3L965.0 2472.0L966.0 2421.8L966.9 2343.6L967.9 2245.1L968.8 2135.9L969.8 2026.6L970.7 1928.1L971.7 1849.9L972.6 1799.7L973.6 1782.4L974.5 1801.0L975.5 1854.9L976.4 1938.9L977.4 2044.8L978.3 2162.1L979.3 2279.5L980.2 2385.4L981.2 2469.4L982.1 2523.3L983.1 2541.9L984.1 2523.2L985.0 2468.8L986.0 2384.2L986.9 2277.5L987.9 2159.3L988.8 2041.0L989.8 1934.4L990.7 1849.7L991.7 1795.4L992.6 1776.7L993.6 1795.1L994.5 1848.6L995.5 1932.0L996.4 2037.1L997.4 2153.6L998.3 2270.0L999.3 2375.1L1000.2 2458.5L1001.2 2512.0L1002.1 2530.5L1003.1 2515.5L1004.0 2472.0L1005.0 2403.3L1005.9 2315.0L1006.9 2214.3L1007.9 2109.4L1008.8 2008.7L1009.8 1920.5L1010.7 1851.8L1011.7 1808.2L1012.6 1793.2L1013.6 1810.4L1014.5 1860.1L1015.5 1937.7L1016.4 2035.3L1017.4 2143.6L1018.3 2251.8L1019.3 2349.5L1020.2 2427.0L1021.2 2476.8L1022.1 2493.9L1023.1 2478.4L1024.0 2433.6L1025.0 2363.7L1025.9 2275.7L1026.9 2178.1L1027.8 2080.6L1028.8 1992.5L1029.7 1922.7L1030.7 1877.8L1031.7 1862.4L1032.6 1876.3L1033.6 1916.6L1034.5 1979.5L1035.5 2058.7L1036.4 2146.4L1037.4 2234.2L1038.3 2313.4L1039.3 2376.2L1040.2 2416.6L1041.2 2430.5L1042.1 2418.5L1043.1 2383.5L1044.0 2328.4L1045.0 2257.6L1045.9 2176.8L1046.9 2092.6L1047.8 2011.9L1048.8 1941.0L1049.7 1885.9L1050.7 1850.9L1051.6 1839.0L1052.6 1854.6L1053.5 1900.0L1054.5 1970.8L1055.5 2059.9L1056.4 2158.7L1057.4 2257.5L1058.3 2346.7L1059.3 2417.4L1060.2 2462.8L1061.2 2478.5L1062.1 2462.7L1063.1 2416.7L1064.0 2345.2L1065.0 2255.2L1065.9 2155.3L1066.9 2055.4L1067.8 1965.3L1068.8 1893.8L1069.7 1847.9L1070.7 1832.1L1071.6 1845.0L1072.6 1882.8L1073.5 1942.3L1074.5 2018.7L1075.4 2105.9L1076.4 2196.7L1077.3 2283.9L1078.3 2360.3L1079.3 2419.8L1080.2 2457.5L1081.2 2470.5L1082.1 2451.6L1083.1 2397.5L1084.0 2314.4L1085.0 2212.6L1085.9 2104.2L1086.9 2002.4L1087.8 1919.4L1088.8 1865.2L1089.7 1846.4L1090.7 1861.0L1091.6 1903.4L1092.6 1969.5L1093.5 2052.7L1094.5 2145.0L1095.4 2237.3L1096.4 2320.5L1097.3 2386.6L1098.3 2429.0L1099.2 2443.6L1100.2 2430.7L1101.1 2393.1L1102.1 2334.5L1103.1 2260.8L1104.0 2179.0L1105.0 2097.2L1105.9 2023.5L1106.9 1964.9L1107.8 1927.3L1108.8 1914.4L1109.7 1923.9L1110.7 1951.6L1111.6 1995.4L1112.6 2051.5L1113.5 2115.6L1114.5 2182.4L1115.4 2246.5L1116.4 2302.6L1117.3 2346.4L1118.3 2374.1L1119.2 2383.6L1120.2 2373.7L1121.1 2344.7L1122.1 2299.1L1123.0 2240.4L1124.0 2173.6L1124.9 2103.9L1125.9 2037.0L1126.9 1978.3L1127.8 1932.7L1128.8 1903.7L1129.7 1893.8L1130.7 1910.0L1131.6 1956.5L1132.6 2027.8L1133.5 2115.3L1134.5 2208.4L1135.4 2295.9L1136.4 2367.2L1137.3 2413.7L1138.3 2429.9L1139.2 2418.9L1140.2 2386.8L1141.1 2336.1L1142.1 2271.0L1143.0 2196.8L1144.0 2119.5L1144.9 2045.3L1145.9 1980.2L1146.8 1929.5L1147.8 1897.4L1148.7 1886.4L1149.7 1899.5L1150.7 1937.6L1151.6 1996.9L1152.6 2071.6L1153.5 2154.4L1154.5 2237.3L1155.4 2312.0L1156.4 2371.3L1157.3 2409.3L1158.3 2422.5L1159.2 2409.6L1160.2 2372.3L1161.1 2314.1L1162.1 2240.8L1163.0 2159.6L1164.0 2078.3L1164.9 2005.0L1165.9 1946.9L1166.8 1909.5L1167.8 1896.7L1168.7 1908.9L1169.7 1944.3L1170.6 1999.4L1171.6 2068.9L1172.5 2145.9L1173.5 2222.9L1174.5 2292.3L1175.4 2347.4L1176.4 2382.8L1177.3 2395.0L1178.3 2384.1L1179.2 2352.5L1180.2 2303.3L1181.1 2241.2L1182.1 2172.4L1183.0 2103.6L1184.0 2041.6L1184.9 1992.3L1185.9 1960.7L1186.8 1949.8L1187.8 1957.8L1188.7 1981.1L1189.7 2017.8L1190.6 2064.9L1191.6 2118.7L1192.5 2174.7L1193.5 2228.5L1194.4 2275.6L1195.4 2312.3L1196.3 2335.6L1197.3 2343.6L1198.3 2335.3L1199.2 2310.9L1200.2 2272.6L1201.1 2223.3L1202.1 2167.1L1203.0 2108.6L1204.0 2052.4L1204.9 2003.1L1205.9 1964.8L1206.8 1940.4L1207.8 1932.1L1208.7 1943.4L1209.7 1976.0L1210.6 2026.8L1211.6 2090.9L1212.5 2161.9L1213.5 2232.9L1214.4 2296.9L1215.4 2347.7L1216.3 2380.4L1217.3 2391.6L1218.2 2380.1L1219.2 2346.8L1220.1 2294.9L1221.1 2229.5L1222.1 2157.0L1223.0 2084.5L1224.0 2019.1L1224.9 1967.2L1225.9 1933.9L1226.8 1922.4L1227.8 1933.6L1228.7 1966.2L1229.7 2016.9L1230.6 2080.8L1231.6 2151.6L1232.5 2222.4L1233.5 2286.3L1234.4 2337.0L1235.4 2369.5L1236.3 2380.7L1237.3 2369.8L1238.2 2337.9L1239.2 2288.3L1240.1 2225.7L1241.1 2156.4L1242.0 2087.1L1243.0 2024.6L1243.9 1975.0L1244.9 1943.1L1245.9 1932.1L1246.8 1942.6L1247.8 1973.1L1248.7 2020.6L1249.7 2080.4L1250.6 2146.7L1251.6 2213.0L1252.5 2272.9L1253.5 2320.3L1254.4 2350.8L1255.4 2361.3L1256.3 2352.1L1257.3 2325.4L1258.2 2283.8L1259.2 2231.4L1260.1 2173.3L1261.1 2115.2L1262.0 2062.8L1263.0 2021.2L1263.9 1994.5L1264.9 1985.3L1265.8 1993.3L1266.8 2016.8L1267.7 2053.2L1268.7 2099.2L1269.7 2150.1L1270.6 2201.1L1271.6 2247.1L1272.5 2283.5L1273.5 2306.9L1274.4 2315.0L1275.4 2309.0L1276.3 2291.4L1277.3 2263.4L1278.2 2226.9L1279.2 2184.3L1280.1 2138.7L1281.1 2093.1L1282.0 2050.6L1283.0 2014.0L1283.9 1986.0L1284.9 1968.4L1285.8 1962.4L1286.8 1972.0L1287.7 1999.7L1288.7 2042.9L1289.6 2097.3L1290.6 2157.6L1291.5 2217.9L1292.5 2272.3L1293.5 2315.5L1294.4 2343.2L1295.4 2352.7L1296.3 2342.9L1297.3 2314.2L1298.2 2269.6L1299.2 2213.3L1300.1 2151.0L1301.1 2088.7L1302.0 2032.4L1303.0 1987.8L1303.9 1959.1L1304.9 1949.3L1305.8 1959.1L1306.8 1987.8L1307.7 2032.5L1308.7 2088.9L1309.6 2151.3L1310.6 2213.7L1311.5 2270.0L1312.5 2314.7L1313.4 2343.4L1314.4 2353.3L1315.3 2343.6L1316.3 2315.3L1317.3 2271.3L1318.2 2215.9L1319.2 2154.4L1320.1 2093.0L1321.1 2037.5L1322.0 1993.5L1323.0 1965.3L1323.9 1955.5L1324.9 1964.8L1325.8 1991.5L1326.8 2033.2L1327.7 2085.7L1328.7 2143.9L1329.6 2202.0L1330.6 2254.5L1331.5 2296.2L1332.5 2322.9L1333.4 2332.2L1334.4 2325.6L1335.3 2306.4L1336.3 2276.1L1337.2 2237.3L1338.2 2193.0L1339.1 2146.8L1340.1 2102.4L1341.1 2063.6L1342.0 2033.3L1343.0 2014.1L1343.9 2007.6L1344.9 2014.5L1345.8 2034.8L1346.8 2066.4L1347.7 2106.3L1348.7 2150.4L1349.6 2194.6L1350.6 2234.4L1351.5 2266.0L1352.5 2286.3L1353.4 2293.3L1354.4 2286.8L1355.3 2267.9L1356.3 2238.0L1357.2 2199.6L1358.2 2155.8L1359.1 2110.2L1360.1 2066.4L1361.0 2028.0L1362.0 1998.1L1362.9 1979.2L1363.9 1972.7L1364.9 1981.8L1365.8 2008.4L1366.8 2049.7L1367.7 2101.8L1368.7 2159.6L1369.6 2217.3L1370.6 2269.4L1371.5 2310.8L1372.5 2337.3L1373.4 2346.5L1374.4 2337.1L1375.3 2309.9L1376.3 2267.5L1377.2 2214.2L1378.2 2155.0L1379.1 2095.8L1380.1 2042.5L1381.0 2000.1L1382.0 1972.9L1382.9 1963.5L1383.9 1972.9L1384.8 2000.1L1385.8 2042.3L1386.7 2095.6L1387.7 2154.7L1388.7 2213.8L1389.6 2267.1L1390.6 2309.4L1391.5 2336.5L1392.5 2345.9L1393.4 2336.7L1394.4 2309.9L1395.3 2268.1L1396.3 2215.6L1397.2 2157.3L1398.2 2099.0L1399.1 2046.4L1400.1 2004.7L1401.0 1977.9L1402.0 1968.7L1402.9 1977.5L1403.9 2003.1L1404.8 2043.0L1405.8 2093.3L1406.7 2149.0L1407.7 2204.7L1408.6 2255.0L1409.6 2294.9L1410.5 2320.5L1411.5 2329.3L1412.5 2322.9L1413.4 2304.1L1414.4 2274.5L1415.3 2236.4L1416.3 2193.0L1417.2 2147.8L1418.2 2104.4L1419.1 2066.4L1420.1 2036.8L1421.0 2018.0L1422.0 2011.6L1422.9 2018.3L1423.9 2037.9L1424.8 2068.3L1425.8 2106.7L1426.7 2149.3L1427.7 2191.8L1428.6 2230.2L1429.6 2260.7L1430.5 2280.3L1431.5 2287.0L1432.4 2280.7L1433.4 2262.2L1434.3 2233.1L1435.3 2195.6L1436.3 2153.0L1437.2 2108.5L1438.2 2065.8L1439.1 2028.4L1440.1 1999.2L1441.0 1980.7L1442.0 1974.4L1442.9 1983.5L1443.9 2009.8L1444.8 2050.7L1445.8 2102.4L1446.7 2159.6L1447.7 2216.8L1448.6 2268.4L1449.6 2309.4L1450.5 2335.7L1451.5 2344.7L1452.4 2335.4L1453.4 2308.3L1454.3 2266.2L1455.3 2213.0L1456.2 2154.1L1457.2 2095.2L1458.1 2042.1L1459.1 1999.9L1460.1 1972.9L1461.0 1963.5L1462.0 1971.4L1462.9 1994.2L1463.9 2030.2L1464.8 2076.5L1465.8 2129.2L1466.7 2184.2L1467.7 2237.0L1468.6 2283.2L1469.6 2319.2L1470.5 2342.1L1471.5 2349.9L1472.4 2338.4L1473.4 2305.3L1474.3 2254.6L1475.3 2192.4L1476.2 2126.2L1477.2 2064.0L1478.1 2013.3L1479.1 1980.2L1480.0 1968.7L1481.0 1977.3L1481.9 2002.4L1482.9 2041.4L1483.9 2090.5L1484.8 2145.0L1485.8 2199.5L1486.7 2248.6L1487.7 2287.6L1488.6 2312.7L1489.6 2321.3L1490.5 2314.9L1491.5 2296.4L1492.4 2267.1L1493.4 2229.4L1494.3 2186.5L1495.3 2141.8L1496.2 2098.9L1497.2 2061.2L1498.1 2031.9L1499.1 2013.3L1500.0 2007.0L1501.0 2014.0L1501.9 2034.3L1502.9 2065.9L1503.8 2105.7L1504.8 2149.9L1505.7 2194.0L1506.7 2233.8L1507.7 2265.4L1508.6 2285.7L1509.6 2292.7L1510.5 2286.1L1511.5 2266.6L1512.4 2235.9L1513.4 2196.5L1514.3 2151.6L1515.3 2104.7L1516.2 2059.8L1517.2 2020.4L1518.1 1989.7L1519.1 1970.2L1520.0 1963.5L1521.0 1973.0L1521.9 2000.4L1522.9 2043.1L1523.8 2096.8L1524.8 2156.4L1525.7 2216.0L1526.7 2269.8L1527.6 2312.5L1528.6 2339.9L1529.5 2349.3L1530.5 2339.7L1531.5 2311.8L1532.4 2268.4L1533.4 2213.7L1534.3 2153.0L1535.3 2092.3L1536.2 2037.6L1537.2 1994.2L1538.1 1966.3L1539.1 1956.7L1540.0 1964.8L1541.0 1988.4L1541.9 2025.5L1542.9 2073.3L1543.8 2127.8L1544.8 2184.5L1545.7 2239.0L1546.7 2286.8L1547.6 2323.9L1548.6 2347.5L1549.5 2355.6L1550.5 2343.7L1551.4 2309.4L1552.4 2256.9L1553.3 2192.4L1554.3 2123.9L1555.3 2059.4L1556.2 2006.9L1557.2 1972.6L1558.1 1960.7L1559.1 1969.8L1560.0 1996.3L1561.0 2037.5L1561.9 2089.4L1562.9 2147.0L1563.8 2204.6L1564.8 2256.5L1565.7 2297.7L1566.7 2324.2L1567.6 2333.3L1568.6 2325.2L1569.5 2301.7L1570.5 2265.1L1571.4 2219.0L1572.4 2167.9L1573.3 2116.7L1574.3 2070.6L1575.2 2034.0L1576.2 2010.5L1577.1 2002.4L1578.1 2008.5L1579.1 2026.1L1580.0 2053.9L1581.0 2089.6L1581.9 2130.3L1582.9 2172.8L1583.8 2213.5L1584.8 2249.3L1585.7 2277.1L1586.7 2294.7L1587.6 2300.7L1588.6 2293.7L1589.5 2273.2L1590.5 2241.0L1591.4 2199.5L1592.4 2152.2L1593.3 2102.9L1594.3 2055.6L1595.2 2014.2L1596.2 1981.9L1597.1 1961.4L1598.1 1954.4L1599.0 1962.6L1600.0 1986.6L1600.9 2024.4L1601.9 2073.0L1602.9 2128.4L1603.8 2186.2L1604.8 2241.6L1605.7 2290.1L1606.7 2328.0L1607.6 2351.9L1608.6 2360.2L1609.5 2347.6L1610.5 2311.6L1611.4 2256.3L1612.4 2188.5L1613.3 2116.4L1614.3 2048.6L1615.2 1993.3L1616.2 1957.2L1617.1 1944.7L1618.1 1953.3L1619.0 1978.3L1620.0 2017.8L1620.9 2068.5L1621.9 2126.3L1622.8 2186.6L1623.8 2244.4L1624.7 2295.1L1625.7 2334.6L1626.7 2359.6L1627.6 2368.2L1628.6 2357.9L1629.5 2328.2L1630.5 2281.8L1631.4 2223.4L1632.4 2158.7L1633.3 2094.0L1634.3 2035.6L1635.2 1989.3L1636.2 1959.5L1637.1 1949.3L1638.1 1961.2L1639.0 1995.4L1640.0 2047.8L1640.9 2112.2L1641.9 2180.7L1642.8 2245.0L1643.8 2297.5L1644.7 2331.7L1645.7 2343.6L1646.6 2336.5L1647.6 2315.9L1648.5 2283.3L1649.5 2241.5L1650.5 2193.8L1651.4 2144.2L1652.4 2096.5L1653.3 2054.7L1654.3 2022.1L1655.2 2001.5L1656.2 1994.4L1657.1 2001.0L1658.1 2020.2L1659.0 2050.4L1660.0 2089.3L1660.9 2133.6L1661.9 2179.8L1662.8 2224.1L1663.8 2263.0L1664.7 2293.3L1665.7 2312.4L1666.6 2319.0L1667.6 2309.8L1668.5 2283.1L1669.5 2241.4L1670.4 2188.9L1671.4 2130.7L1672.3 2072.5L1673.3 2020.0L1674.3 1978.4L1675.2 1951.6L1676.2 1942.4L1677.1 1951.3L1678.1 1977.1L1679.0 2017.8L1680.0 2070.2L1680.9 2129.9L1681.9 2192.1L1682.8 2251.8L1683.8 2304.2L1684.7 2344.9L1685.7 2370.7L1686.6 2379.6L1687.6 2368.6L1688.5 2336.8L1689.5 2287.3L1690.4 2224.8L1691.4 2155.6L1692.3 2086.3L1693.3 2023.9L1694.2 1974.3L1695.2 1942.5L1696.1 1931.5L1697.1 1942.6L1698.1 1974.8L1699.0 2024.8L1700.0 2087.9L1700.9 2157.9L1701.9 2227.8L1702.8 2290.9L1703.8 2340.9L1704.7 2373.1L1705.7 2384.2L1706.6 2370.7L1707.6 2331.8L1708.5 2272.3L1709.5 2199.3L1710.4 2121.6L1711.4 2048.6L1712.3 1989.0L1713.3 1950.2L1714.2 1936.7L1715.2 1946.9L1716.1 1976.4L1717.1 2022.3L1718.0 2080.2L1719.0 2144.4L1719.9 2208.6L1720.9 2266.5L1721.9 2312.5L1722.8 2342.0L1723.8 2352.2L1724.7 2344.6L1725.7 2322.5L1726.6 2287.8L1727.6 2243.1L1728.5 2192.1L1729.5 2139.0L1730.4 2088.1L1731.4 2043.4L1732.3 2008.6L1733.3 1986.5L1734.2 1979.0L1735.2 1986.0L1736.1 2006.6L1737.1 2039.0L1738.0 2080.7L1739.0 2128.2L1739.9 2177.8L1740.9 2225.3L1741.8 2267.0L1742.8 2299.4L1743.7 2320.0L1744.7 2327.0L1745.7 2317.4L1746.6 2289.5L1747.6 2246.0L1748.5 2191.2L1749.5 2130.4L1750.4 2069.7L1751.4 2014.9L1752.3 1971.4L1753.3 1943.5L1754.2 1933.8L1755.2 1944.8L1756.1 1976.8L1757.1 2026.5L1758.0 2089.2L1759.0 2158.7L1759.9 2228.2L1760.9 2290.9L1761.8 2340.7L1762.8 2372.6L1763.7 2383.6L1764.7 2372.5L1765.6 2340.2L1766.6 2290.0L1767.5 2226.6L1768.5 2156.4L1769.5 2086.2L1770.4 2022.9L1771.4 1972.6L1772.3 1940.4L1773.3 1929.3L1774.2 1940.5L1775.2 1973.1L1776.1 2023.8L1777.1 2087.8L1778.0 2158.7L1779.0 2229.6L1779.9 2293.6L1780.9 2344.3L1781.8 2376.9L1782.8 2388.2L1783.7 2377.0L1784.7 2344.6L1785.6 2294.2L1786.6 2230.6L1787.5 2160.1L1788.5 2089.7L1789.4 2026.1L1790.4 1975.7L1791.3 1943.3L1792.3 1932.1L1793.3 1942.6L1794.2 1973.0L1795.2 2020.3L1796.1 2080.0L1797.1 2146.1L1798.0 2212.3L1799.0 2271.9L1799.9 2319.3L1800.9 2349.7L1801.8 2360.2L1802.8 2352.3L1803.7 2329.2L1804.7 2292.9L1805.6 2246.2L1806.6 2193.0L1807.5 2137.6L1808.5 2084.3L1809.4 2037.7L1810.4 2001.3L1811.3 1978.3L1812.3 1970.4L1813.2 1979.2L1814.2 2004.7L1815.1 2044.4L1816.1 2094.4L1817.1 2149.9L1818.0 2205.3L1819.0 2255.3L1819.9 2295.0L1820.9 2320.5L1821.8 2329.3L1822.8 2321.2L1823.7 2297.5L1824.7 2260.2L1825.6 2212.2L1826.6 2157.5L1827.5 2100.5L1828.5 2045.8L1829.4 1997.8L1830.4 1960.5L1831.3 1936.8L1832.3 1928.7L1833.2 1940.0L1834.2 1972.9L1835.1 2024.2L1836.1 2088.8L1837.0 2160.4L1838.0 2232.0L1838.9 2296.6L1839.9 2347.9L1840.9 2380.8L1841.8 2392.2L1842.8 2380.7L1843.7 2347.5L1844.7 2295.7L1845.6 2230.5L1846.6 2158.1L1847.5 2085.8L1848.5 2020.6L1849.4 1968.8L1850.4 1935.6L1851.3 1924.1L1852.3 1933.8L1853.2 1961.9L1854.2 2006.4L1855.1 2063.4L1856.1 2128.5L1857.0 2196.3L1858.0 2261.4L1858.9 2318.5L1859.9 2362.9L1860.8 2391.1L1861.8 2400.7L1862.7 2386.5L1863.7 2345.5L1864.7 2282.7L1865.6 2205.7L1866.6 2123.7L1867.5 2046.7L1868.5 1983.9L1869.4 1942.9L1870.4 1928.7L1871.3 1939.6L1872.3 1971.1L1873.2 2020.3L1874.2 2082.3L1875.1 2151.0L1876.1 2219.7L1877.0 2281.7L1878.0 2330.9L1878.9 2362.4L1879.9 2373.3L1880.8 2365.2L1881.8 2341.4L1882.7 2304.0L1883.7 2255.9L1884.6 2201.0L1885.6 2143.8L1886.5 2089.0L1887.5 2040.9L1888.5 2003.4L1889.4 1979.7L1890.4 1971.5L1891.3 1980.5L1892.3 2006.4L1893.2 2046.7L1894.2 2097.5L1895.1 2153.9L1896.1 2210.2L1897.0 2261.0L1898.0 2301.3L1898.9 2327.2L1899.9 2336.2L1900.8 2327.9L1901.8 2303.9L1902.7 2265.9L1903.7 2217.2L1904.6 2161.7L1905.6 2103.8L1906.5 2048.2L1907.5 1999.5L1908.4 1961.6L1909.4 1937.5L1910.3 1929.3L1911.3 1940.5L1912.3 1973.1L1913.2 2023.8L1914.2 2087.8L1915.1 2158.7L1916.1 2229.6L1917.0 2293.6L1918.0 2344.3L1918.9 2376.9L1919.9 2388.2L1920.8 2376.8L1921.8 2343.8L1922.7 2292.4L1923.7 2227.6L1924.6 2155.9L1925.6 2084.1L1926.5 2019.3L1927.5 1967.9L1928.4 1934.9L1929.4 1923.5L1930.3 1935.0L1931.3 1968.3L1932.2 2020.2L1933.2 2085.6L1934.1 2158.1L1935.1 2230.6L1936.1 2296.0L1937.0 2347.9L1938.0 2381.3L1938.9 2392.7L1939.9 2381.3L1940.8 2348.3L1941.8 2296.7L1942.7 2231.8L1943.7 2159.9L1944.6 2087.9L1945.6 2023.0L1946.5 1971.4L1947.5 1938.4L1948.4 1927.0L1949.4 1937.8L1950.3 1969.2L1951.3 2018.0L1952.2 2079.6L1953.2 2147.9L1954.1 2216.1L1955.1 2277.7L1956.0 2326.6L1957.0 2357.9L1957.9 2368.7L1958.9 2359.1L1959.9 2331.1L1960.8 2287.5L1961.8 2232.5L1962.7 2171.6L1963.7 2110.6L1964.6 2055.7L1965.6 2012.1L1966.5 1984.1L1967.5 1974.4L1968.4 1981.8L1969.4 2003.2L1970.3 2037.0L1971.3 2080.5L1972.2 2130.0L1973.2 2181.7L1974.1 2231.2L1975.1 2274.7L1976.0 2308.5L1977.0 2330.0L1977.9 2337.3L1978.9 2327.3L1979.8 2298.2L1980.8 2252.9L1981.7 2195.7L1982.7 2132.4L1983.7 2069.1L1984.6 2012.0L1985.6 1966.7L1986.5 1937.6L1987.5 1927.5L1988.4 1936.9L1989.4 1964.1L1990.3 2007.0L1991.3 2062.2L1992.2 2125.1L1993.2 2190.6L1994.1 2253.5L1995.1 2308.7L1996.0 2351.6L1997.0 2378.8L1997.9 2388.2L1998.9 2376.8L1999.8 2343.7L2000.8 2292.3L2001.7 2227.4L2002.7 2155.6L2003.6 2083.7L2004.6 2018.9L2005.5 1967.4L2006.5 1934.4L2007.5 1923.0L2008.4 1934.4L2009.4 1967.7L2010.3 2019.4L2011.3 2084.7L2012.2 2157.0L2013.2 2229.3L2014.1 2294.6L2015.1 2346.3L2016.0 2379.6L2017.0 2391.0L2017.9 2379.6L2018.9 2346.5L2019.8 2294.9L2020.8 2229.9L2021.7 2157.9L2022.7 2085.8L2023.6 2020.8L2024.6 1969.2L2025.5 1936.1L2026.5 1924.7L2027.4 1935.5L2028.4 1967.0L2029.3 2016.0L2030.3 2077.7L2031.3 2146.1L2032.2 2214.6L2033.2 2276.3L2034.1 2325.3L2035.1 2356.8L2036.0 2367.6L2037.0 2357.8L2037.9 2329.2L2038.9 2284.8L2039.8 2228.8L2040.8 2166.7L2041.7 2104.6L2042.7 2048.6L2043.6 2004.2L2044.6 1975.7L2045.5 1965.8L2046.5 1973.4L2047.4 1995.3L2048.4 2029.9L2049.3 2074.4L2050.3 2125.1L2051.2 2178.0L2052.2 2228.7L2053.1 2273.2L2054.1 2307.8L2055.1 2329.8L2056.0 2337.3L2057.0 2327.3L2057.9 2298.1L2058.9 2252.7L2059.8 2195.5L2060.8 2132.1L2061.7 2068.7L2062.7 2011.5L2063.6 1966.2L2064.6 1937.0L2065.5 1927.0L2066.5 1936.4L2067.4 1963.8L2068.4 2007.0L2069.3 2062.4L2070.3 2125.7L2071.2 2191.7L2072.2 2255.0L2073.1 2310.5L2074.1 2353.7L2075.0 2381.1L2076.0 2390.5L2076.9 2376.4L2077.9 2335.8L2078.9 2273.7L2079.8 2197.5L2080.8 2116.5L2081.7 2040.3L2082.7 1978.2L2083.6 1937.6L2084.6 1923.5L2085.5 1933.1L2086.5 1961.0L2087.4 2004.9L2088.4 2061.4L2089.3 2125.7L2090.3 2192.8L2091.2 2257.2L2092.2 2313.7L2093.1 2357.6L2094.1 2385.5L2095.0 2395.0L2096.0 2383.6L2096.9 2350.4L2097.9 2298.7L2098.8 2233.5L2099.8 2161.3L2100.7 2089.1L2101.7 2023.9L2102.7 1972.2L2103.6 1939.0L2104.6 1927.5L2105.5 1938.4L2106.5 1970.1L2107.4 2019.3L2108.4 2081.4L2109.3 2150.1L2110.3 2218.9L2111.2 2281.0L2112.2 2330.2L2113.1 2361.8L2114.1 2372.7L2115.0 2362.9L2116.0 2334.3L2116.9 2289.8L2117.9 2233.7L2118.8 2171.6L2119.8 2109.4L2120.7 2053.3L2121.7 2008.8L2122.6 1980.3L2123.6 1970.4L2124.5 1970.4L2125.5 1970.4"/><rect x="220.0" y="2157.0" width="574.2" height="4" fill="#d95319" stroke="none"/></g>
<text class="cm" y="2860.7"><tspan x="1020.95" font-size="78" textLength="169.21" lengthAdjust="spacingAndGlyphs">Time</tspan><tspan x="1194.37" font-size="90" textLength="17.13" lengthAdjust="spacingAndGlyphs" dy="7.00">[</tspan><tspan x="1209.19" font-size="76.5" textLength="97.90" lengthAdjust="spacingAndGlyphs" dy="-7.00">sec</tspan><tspan x="1306.34" font-size="90" textLength="16.56" lengthAdjust="spacingAndGlyphs" dy="7.00">]</tspan></text>
<text class="cm" transform="translate(79.8 2341.8) rotate(-90)" y="0"><tspan x="0.00" font-size="81.3" textLength="245.56" lengthAdjust="spacingAndGlyphs">Voltage</tspan><tspan font-size="81.3"> </tspan><tspan x="275.07" font-size="90" textLength="15.13" lengthAdjust="spacingAndGlyphs" dy="7.00">[</tspan><tspan x="291.00" font-size="81.3" textLength="55.58" lengthAdjust="spacingAndGlyphs" dy="-7.00">V</tspan><tspan x="346.46" font-size="90" textLength="15.42" lengthAdjust="spacingAndGlyphs" dy="7.00">]</tspan></text>
<g class="lg">
<rect x="1042" y="1623.0" width="1048" height="111.0" fill="#262626" shape-rendering="crispEdges"/>
<rect x="1045" y="1627.0" width="1041" height="104.0" fill="#fff" shape-rendering="crispEdges"/>
<rect x="1057" y="1653.0" width="142" height="4" fill="#0072bd" shape-rendering="crispEdges"/>
<rect x="1057" y="1701.0" width="142" height="3" fill="#d95319" shape-rendering="crispEdges"/>
<text class="cm" y="1665.1"><tspan x="1208.40" font-size="38.5" textLength="53.93" lengthAdjust="spacingAndGlyphs">PD</tspan><tspan font-size="38.5"> </tspan><tspan x="1275.45" font-size="38.5" textLength="114.31" lengthAdjust="spacingAndGlyphs">control</tspan><tspan font-size="38.5"> </tspan><tspan x="1403.56" font-size="38.5" textLength="111.70" lengthAdjust="spacingAndGlyphs">system</tspan><tspan font-size="38.5"> </tspan><tspan x="1528.79" font-size="38.5" textLength="89.92" lengthAdjust="spacingAndGlyphs">Input</tspan><tspan font-size="38.5"> </tspan><tspan x="1634.20" font-size="38.5" textLength="123.47" lengthAdjust="spacingAndGlyphs">Voltage</tspan><tspan font-size="38.5"> </tspan><tspan x="1771.40" font-size="38.5" textLength="32.85" lengthAdjust="spacingAndGlyphs">to</tspan><tspan font-size="38.5"> </tspan><tspan x="1817.30" font-size="38.5" textLength="146.08" lengthAdjust="spacingAndGlyphs">Actuator</tspan><tspan font-size="38.5"> </tspan><tspan x="1979.40" font-size="38.5" textLength="25.17" lengthAdjust="spacingAndGlyphs" font-style="italic">P</tspan><tspan x="2003.56" font-size="27" textLength="11.29" lengthAdjust="spacingAndGlyphs" dy="6.00">2</tspan><tspan x="2019.98" font-size="38.5" textLength="8.82" lengthAdjust="spacingAndGlyphs" dy="-6.00">,</tspan><tspan x="2036.30" font-size="38.5" textLength="25.17" lengthAdjust="spacingAndGlyphs" font-style="italic">P</tspan><tspan x="2060.53" font-size="27" textLength="10.35" lengthAdjust="spacingAndGlyphs" dy="6.00">3</tspan></text>
<text class="cm" y="1712.4"><tspan x="1208.44" font-size="38.5" textLength="151.49" lengthAdjust="spacingAndGlyphs">Proposed</tspan><tspan font-size="38.5"> </tspan><tspan x="1374.79" font-size="38.5" textLength="89.92" lengthAdjust="spacingAndGlyphs">Input</tspan><tspan font-size="38.5"> </tspan><tspan x="1480.20" font-size="38.5" textLength="123.47" lengthAdjust="spacingAndGlyphs">Voltage</tspan><tspan font-size="38.5"> </tspan><tspan x="1617.40" font-size="38.5" textLength="32.85" lengthAdjust="spacingAndGlyphs">to</tspan><tspan font-size="38.5"> </tspan><tspan x="1663.30" font-size="38.5" textLength="146.08" lengthAdjust="spacingAndGlyphs">Actuator</tspan><tspan font-size="38.5"> </tspan><tspan x="1825.20" font-size="38.5" textLength="25.17" lengthAdjust="spacingAndGlyphs" font-style="italic">P</tspan><tspan x="1849.36" font-size="27" textLength="11.29" lengthAdjust="spacingAndGlyphs" dy="6.00">2</tspan><tspan x="1865.78" font-size="38.5" textLength="8.82" lengthAdjust="spacingAndGlyphs" dy="-6.00">,</tspan><tspan x="1882.10" font-size="38.5" textLength="25.17" lengthAdjust="spacingAndGlyphs" font-style="italic">P</tspan><tspan x="1906.33" font-size="27" textLength="10.35" lengthAdjust="spacingAndGlyphs" dy="6.00">3</tspan></text>
</g>
<text class="cap" y="3081.8"><tspan x="1033.25" font-size="87" textLength="26.48" lengthAdjust="spacingAndGlyphs">(</tspan><tspan x="1060.82" font-size="85" textLength="48.60" lengthAdjust="spacingAndGlyphs" font-weight="bold">d</tspan><tspan x="1110.25" font-size="87" textLength="26.61" lengthAdjust="spacingAndGlyphs" font-weight="normal">)</tspan></text>
</g>
</svg></body></html>
